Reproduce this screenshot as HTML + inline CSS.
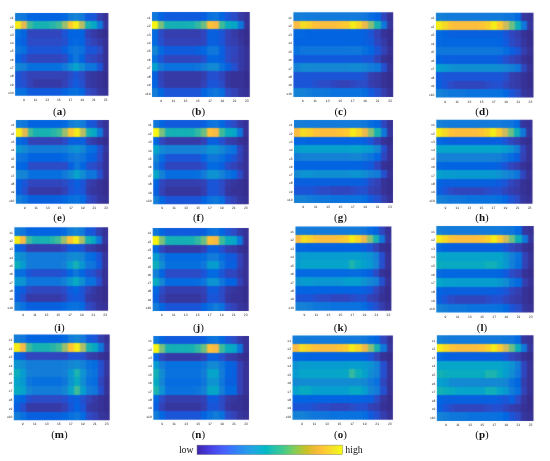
<!DOCTYPE html>
<html lang="en"><head><meta charset="utf-8"><title>Heatmaps</title>
<style>html,body{margin:0;padding:0;background:#fff}body{width:550px;height:461px;overflow:hidden}svg{display:block}.t{font-family:"Liberation Sans",sans-serif;font-size:3.3px;fill:#1a1a1a;text-rendering:geometricPrecision}.l{font-family:"Liberation Serif",serif;font-size:11px;fill:#111}.c{font-family:"Liberation Serif",serif;font-size:9.8px;fill:#111}</style></head><body>
<svg width="550" height="461" viewBox="0 0 550 461">
<defs><filter id="b" x="-5%" y="-5%" width="110%" height="110%" color-interpolation-filters="sRGB"><feConvolveMatrix order="5 3" kernelMatrix="0.0041 0.0326 0.0651 0.0326 0.0041 0.0213 0.1702 0.3400 0.1702 0.0213 0.0041 0.0326 0.0651 0.0326 0.0041" divisor="1" edgeMode="duplicate" preserveAlpha="true"/></filter><filter id="b2" x="-2%" y="-2%" width="104%" height="104%" color-interpolation-filters="sRGB"><feConvolveMatrix order="3 3" kernelMatrix="0.0028 0.0470 0.0028 0.0470 0.8008 0.0470 0.0028 0.0470 0.0028" divisor="1" edgeMode="none"/></filter>
<linearGradient id="cb" x1="0" x2="1" y1="0" y2="0"><stop offset="0.0000" stop-color="#3e26a8"/><stop offset="0.0476" stop-color="#4332cb"/><stop offset="0.0952" stop-color="#4741e5"/><stop offset="0.1429" stop-color="#4852f4"/><stop offset="0.1905" stop-color="#4563fd"/><stop offset="0.2381" stop-color="#3875fe"/><stop offset="0.2857" stop-color="#2e87f7"/><stop offset="0.3333" stop-color="#2797eb"/><stop offset="0.3810" stop-color="#20a5e3"/><stop offset="0.4286" stop-color="#12b1d6"/><stop offset="0.4762" stop-color="#02bac3"/><stop offset="0.5238" stop-color="#24c1ae"/><stop offset="0.5714" stop-color="#37c897"/><stop offset="0.6190" stop-color="#57cc7a"/><stop offset="0.6667" stop-color="#81cc59"/><stop offset="0.7143" stop-color="#abc739"/><stop offset="0.7619" stop-color="#d1bf27"/><stop offset="0.8095" stop-color="#f0ba36"/><stop offset="0.8571" stop-color="#fec338"/><stop offset="0.9048" stop-color="#fad62d"/><stop offset="0.9524" stop-color="#f5e924"/><stop offset="1.0000" stop-color="#f9fb15"/></linearGradient></defs>
<rect width="550" height="461" fill="#fff"/>
<clipPath id="cp_a"><rect x="15.10" y="12.90" width="93.30" height="82.90"/></clipPath><g filter="url(#b2)"><g clip-path="url(#cp_a)"><g filter="url(#b)" shape-rendering="crispEdges"><rect x="12.10" y="9.90" width="8.88" height="11.34" fill="#127cd8"/><rect x="20.93" y="9.90" width="5.88" height="11.34" fill="#0f77db"/><rect x="26.76" y="9.90" width="35.04" height="11.34" fill="#0364e1"/><rect x="61.75" y="9.90" width="5.88" height="11.34" fill="#036ae1"/><rect x="67.58" y="9.90" width="5.88" height="11.34" fill="#127cd8"/><rect x="73.41" y="9.90" width="5.88" height="11.34" fill="#1484d4"/><rect x="79.24" y="9.90" width="5.88" height="11.34" fill="#117ada"/><rect x="85.08" y="9.90" width="5.88" height="11.34" fill="#105bdd"/><rect x="90.91" y="9.90" width="5.88" height="11.34" fill="#1b55d7"/><rect x="96.74" y="9.90" width="5.88" height="11.34" fill="#353eaf"/><rect x="102.57" y="9.90" width="8.88" height="11.34" fill="#363297"/><rect x="12.10" y="21.19" width="8.88" height="8.34" fill="#f5ec18"/><rect x="20.93" y="21.19" width="5.88" height="8.34" fill="#e2b951"/><rect x="26.76" y="21.19" width="5.88" height="8.34" fill="#3fba99"/><rect x="32.59" y="21.19" width="17.54" height="8.34" fill="#18b1b2"/><rect x="50.09" y="21.19" width="5.88" height="8.34" fill="#27b5a8"/><rect x="55.92" y="21.19" width="5.88" height="8.34" fill="#3fba99"/><rect x="61.75" y="21.19" width="5.88" height="8.34" fill="#9bbf6f"/><rect x="67.58" y="21.19" width="5.88" height="8.34" fill="#fec733"/><rect x="73.41" y="21.19" width="5.88" height="8.34" fill="#f5ec18"/><rect x="79.24" y="21.19" width="5.88" height="8.34" fill="#b8bd63"/><rect x="85.08" y="21.19" width="5.88" height="8.34" fill="#18b1b2"/><rect x="90.91" y="21.19" width="5.88" height="8.34" fill="#06a8c4"/><rect x="96.74" y="21.19" width="5.88" height="8.34" fill="#0f77db"/><rect x="102.57" y="21.19" width="8.88" height="8.34" fill="#36369f"/><rect x="12.10" y="29.48" width="8.88" height="8.34" fill="#0770df"/><rect x="20.93" y="29.48" width="5.88" height="8.34" fill="#0364e1"/><rect x="26.76" y="29.48" width="35.04" height="8.34" fill="#2f46bf"/><rect x="61.75" y="29.48" width="5.88" height="8.34" fill="#1b55d7"/><rect x="67.58" y="29.48" width="17.54" height="8.34" fill="#0364e1"/><rect x="85.08" y="29.48" width="5.88" height="8.34" fill="#3342b7"/><rect x="90.91" y="29.48" width="5.88" height="8.34" fill="#363aa7"/><rect x="96.74" y="29.48" width="5.88" height="8.34" fill="#363297"/><rect x="102.57" y="29.48" width="8.88" height="8.34" fill="#362e8f"/><rect x="12.10" y="37.77" width="8.88" height="8.34" fill="#036ae1"/><rect x="20.93" y="37.77" width="5.88" height="8.34" fill="#0860df"/><rect x="26.76" y="37.77" width="35.04" height="8.34" fill="#2b4bc7"/><rect x="61.75" y="37.77" width="5.88" height="8.34" fill="#2450cf"/><rect x="67.58" y="37.77" width="5.88" height="8.34" fill="#0364e1"/><rect x="73.41" y="37.77" width="5.88" height="8.34" fill="#036ae1"/><rect x="79.24" y="37.77" width="5.88" height="8.34" fill="#0364e1"/><rect x="85.08" y="37.77" width="5.88" height="8.34" fill="#2b4bc7"/><rect x="90.91" y="37.77" width="5.88" height="8.34" fill="#3342b7"/><rect x="96.74" y="37.77" width="5.88" height="8.34" fill="#363aa7"/><rect x="102.57" y="37.77" width="8.88" height="8.34" fill="#363297"/><rect x="12.10" y="46.06" width="8.88" height="8.34" fill="#0d75dc"/><rect x="20.93" y="46.06" width="5.88" height="8.34" fill="#0770df"/><rect x="26.76" y="46.06" width="35.04" height="8.34" fill="#1b55d7"/><rect x="61.75" y="46.06" width="5.88" height="8.34" fill="#0860df"/><rect x="67.58" y="46.06" width="5.88" height="8.34" fill="#0a72de"/><rect x="73.41" y="46.06" width="5.88" height="8.34" fill="#0f77db"/><rect x="79.24" y="46.06" width="5.88" height="8.34" fill="#0a72de"/><rect x="85.08" y="46.06" width="11.71" height="8.34" fill="#1b55d7"/><rect x="96.74" y="46.06" width="5.88" height="8.34" fill="#2b4bc7"/><rect x="102.57" y="46.06" width="8.88" height="8.34" fill="#363297"/><rect x="12.10" y="54.35" width="8.88" height="8.34" fill="#0364e1"/><rect x="20.93" y="54.35" width="5.88" height="8.34" fill="#1b55d7"/><rect x="26.76" y="54.35" width="35.04" height="8.34" fill="#2f46bf"/><rect x="61.75" y="54.35" width="5.88" height="8.34" fill="#2b4bc7"/><rect x="67.58" y="54.35" width="5.88" height="8.34" fill="#0364e1"/><rect x="73.41" y="54.35" width="5.88" height="8.34" fill="#0f77db"/><rect x="79.24" y="54.35" width="5.88" height="8.34" fill="#0364e1"/><rect x="85.08" y="54.35" width="5.88" height="8.34" fill="#2b4bc7"/><rect x="90.91" y="54.35" width="5.88" height="8.34" fill="#2f46bf"/><rect x="96.74" y="54.35" width="5.88" height="8.34" fill="#353eaf"/><rect x="102.57" y="54.35" width="8.88" height="8.34" fill="#363297"/><rect x="12.10" y="62.64" width="8.88" height="8.34" fill="#1484d4"/><rect x="20.93" y="62.64" width="5.88" height="8.34" fill="#137fd7"/><rect x="26.76" y="62.64" width="35.04" height="8.34" fill="#0770df"/><rect x="61.75" y="62.64" width="5.88" height="8.34" fill="#117ada"/><rect x="67.58" y="62.64" width="5.88" height="8.34" fill="#0f8fd2"/><rect x="73.41" y="62.64" width="5.88" height="8.34" fill="#06a3cb"/><rect x="79.24" y="62.64" width="5.88" height="8.34" fill="#118cd2"/><rect x="85.08" y="62.64" width="11.71" height="8.34" fill="#0d75dc"/><rect x="96.74" y="62.64" width="5.88" height="8.34" fill="#1b55d7"/><rect x="102.57" y="62.64" width="8.88" height="8.34" fill="#363297"/><rect x="12.10" y="70.93" width="8.88" height="8.34" fill="#1b55d7"/><rect x="20.93" y="70.93" width="5.88" height="8.34" fill="#2b4bc7"/><rect x="26.76" y="70.93" width="40.87" height="8.34" fill="#3342b7"/><rect x="67.58" y="70.93" width="5.88" height="8.34" fill="#2b4bc7"/><rect x="73.41" y="70.93" width="5.88" height="8.34" fill="#1b55d7"/><rect x="79.24" y="70.93" width="5.88" height="8.34" fill="#2b4bc7"/><rect x="85.08" y="70.93" width="5.88" height="8.34" fill="#363aa7"/><rect x="90.91" y="70.93" width="5.88" height="8.34" fill="#36369f"/><rect x="96.74" y="70.93" width="5.88" height="8.34" fill="#363297"/><rect x="102.57" y="70.93" width="8.88" height="8.34" fill="#362e8f"/><rect x="12.10" y="79.22" width="8.88" height="8.34" fill="#1b55d7"/><rect x="20.93" y="79.22" width="5.88" height="8.34" fill="#2450cf"/><rect x="26.76" y="79.22" width="5.88" height="8.34" fill="#3342b7"/><rect x="32.59" y="79.22" width="29.21" height="8.34" fill="#363aa7"/><rect x="61.75" y="79.22" width="5.88" height="8.34" fill="#3342b7"/><rect x="67.58" y="79.22" width="5.88" height="8.34" fill="#2450cf"/><rect x="73.41" y="79.22" width="5.88" height="8.34" fill="#105bdd"/><rect x="79.24" y="79.22" width="5.88" height="8.34" fill="#2450cf"/><rect x="85.08" y="79.22" width="5.88" height="8.34" fill="#363aa7"/><rect x="90.91" y="79.22" width="5.88" height="8.34" fill="#36369f"/><rect x="96.74" y="79.22" width="5.88" height="8.34" fill="#363297"/><rect x="102.57" y="79.22" width="8.88" height="8.34" fill="#362e8f"/><rect x="12.10" y="87.51" width="8.88" height="11.34" fill="#0a72de"/><rect x="20.93" y="87.51" width="5.88" height="11.34" fill="#0770df"/><rect x="26.76" y="87.51" width="35.04" height="11.34" fill="#105bdd"/><rect x="61.75" y="87.51" width="5.88" height="11.34" fill="#0364e1"/><rect x="67.58" y="87.51" width="5.88" height="11.34" fill="#056de0"/><rect x="73.41" y="87.51" width="5.88" height="11.34" fill="#0770df"/><rect x="79.24" y="87.51" width="5.88" height="11.34" fill="#0267e1"/><rect x="85.08" y="87.51" width="5.88" height="11.34" fill="#2b4bc7"/><rect x="90.91" y="87.51" width="5.88" height="11.34" fill="#3342b7"/><rect x="96.74" y="87.51" width="5.88" height="11.34" fill="#36369f"/><rect x="102.57" y="87.51" width="8.88" height="11.34" fill="#363297"/></g></g></g>
<text class="t" x="13.60" y="19.25" text-anchor="end">x1</text><text class="t" x="13.60" y="27.54" text-anchor="end">x2</text><text class="t" x="13.60" y="35.83" text-anchor="end">x3</text><text class="t" x="13.60" y="44.12" text-anchor="end">x4</text><text class="t" x="13.60" y="52.40" text-anchor="end">x5</text><text class="t" x="13.60" y="60.70" text-anchor="end">x6</text><text class="t" x="13.60" y="68.98" text-anchor="end">x7</text><text class="t" x="13.60" y="77.28" text-anchor="end">x8</text><text class="t" x="13.60" y="85.56" text-anchor="end">x9</text><text class="t" x="13.60" y="93.86" text-anchor="end">x10</text><text class="t" x="23.85" y="100.90" text-anchor="middle">9</text><text class="t" x="35.51" y="100.90" text-anchor="middle">11</text><text class="t" x="47.17" y="100.90" text-anchor="middle">13</text><text class="t" x="58.83" y="100.90" text-anchor="middle">15</text><text class="t" x="70.50" y="100.90" text-anchor="middle">17</text><text class="t" x="82.16" y="100.90" text-anchor="middle">19</text><text class="t" x="93.82" y="100.90" text-anchor="middle">21</text><text class="t" x="105.48" y="100.90" text-anchor="middle">23</text>
<text class="l" x="59.40" y="114.90" text-anchor="middle">(<tspan font-weight="bold">a</tspan>)</text>
<clipPath id="cp_b"><rect x="152.00" y="12.10" width="97.80" height="84.80"/></clipPath><g filter="url(#b2)"><g clip-path="url(#cp_b)"><g filter="url(#b)" shape-rendering="crispEdges"><rect x="149.00" y="9.10" width="9.16" height="11.53" fill="#0f77db"/><rect x="158.11" y="9.10" width="6.16" height="11.53" fill="#0364e1"/><rect x="164.22" y="9.10" width="36.73" height="11.53" fill="#105bdd"/><rect x="200.90" y="9.10" width="6.16" height="11.53" fill="#0860df"/><rect x="207.01" y="9.10" width="6.16" height="11.53" fill="#0a72de"/><rect x="213.12" y="9.10" width="6.16" height="11.53" fill="#0d75dc"/><rect x="219.24" y="9.10" width="6.16" height="11.53" fill="#0267e1"/><rect x="225.35" y="9.10" width="6.16" height="11.53" fill="#1b55d7"/><rect x="231.46" y="9.10" width="6.16" height="11.53" fill="#2b4bc7"/><rect x="237.58" y="9.10" width="6.16" height="11.53" fill="#363aa7"/><rect x="243.69" y="9.10" width="9.16" height="11.53" fill="#363297"/><rect x="149.00" y="20.58" width="9.16" height="8.53" fill="#f7f611"/><rect x="158.11" y="20.58" width="6.16" height="8.53" fill="#7abf7c"/><rect x="164.22" y="20.58" width="6.16" height="8.53" fill="#18b1b2"/><rect x="170.34" y="20.58" width="18.39" height="8.53" fill="#14b0b5"/><rect x="188.68" y="20.58" width="6.16" height="8.53" fill="#18b1b2"/><rect x="194.79" y="20.58" width="6.16" height="8.53" fill="#33b8a1"/><rect x="200.90" y="20.58" width="6.16" height="8.53" fill="#6bbf83"/><rect x="207.01" y="20.58" width="6.16" height="8.53" fill="#fec13a"/><rect x="213.12" y="20.58" width="6.16" height="8.53" fill="#f6ba46"/><rect x="219.24" y="20.58" width="6.16" height="8.53" fill="#3fba99"/><rect x="225.35" y="20.58" width="6.16" height="8.53" fill="#09acbe"/><rect x="231.46" y="20.58" width="6.16" height="8.53" fill="#06a6c6"/><rect x="237.58" y="20.58" width="6.16" height="8.53" fill="#0d75dc"/><rect x="243.69" y="20.58" width="9.16" height="8.53" fill="#363297"/><rect x="149.00" y="29.06" width="9.16" height="8.53" fill="#036ae1"/><rect x="158.11" y="29.06" width="6.16" height="8.53" fill="#2b4bc7"/><rect x="164.22" y="29.06" width="36.73" height="8.53" fill="#353eaf"/><rect x="200.90" y="29.06" width="6.16" height="8.53" fill="#2f46bf"/><rect x="207.01" y="29.06" width="12.28" height="8.53" fill="#0860df"/><rect x="219.24" y="29.06" width="6.16" height="8.53" fill="#1b55d7"/><rect x="225.35" y="29.06" width="6.16" height="8.53" fill="#3342b7"/><rect x="231.46" y="29.06" width="6.16" height="8.53" fill="#363aa7"/><rect x="237.58" y="29.06" width="6.16" height="8.53" fill="#363297"/><rect x="243.69" y="29.06" width="9.16" height="8.53" fill="#362e8f"/><rect x="149.00" y="37.54" width="9.16" height="8.53" fill="#036ae1"/><rect x="158.11" y="37.54" width="6.16" height="8.53" fill="#2450cf"/><rect x="164.22" y="37.54" width="36.73" height="8.53" fill="#3342b7"/><rect x="200.90" y="37.54" width="6.16" height="8.53" fill="#2f46bf"/><rect x="207.01" y="37.54" width="12.28" height="8.53" fill="#0860df"/><rect x="219.24" y="37.54" width="6.16" height="8.53" fill="#1b55d7"/><rect x="225.35" y="37.54" width="6.16" height="8.53" fill="#3342b7"/><rect x="231.46" y="37.54" width="6.16" height="8.53" fill="#353eaf"/><rect x="237.58" y="37.54" width="6.16" height="8.53" fill="#36369f"/><rect x="243.69" y="37.54" width="9.16" height="8.53" fill="#362e8f"/><rect x="149.00" y="46.02" width="9.16" height="8.53" fill="#1484d4"/><rect x="158.11" y="46.02" width="6.16" height="8.53" fill="#036ae1"/><rect x="164.22" y="46.02" width="30.61" height="8.53" fill="#105bdd"/><rect x="194.79" y="46.02" width="6.16" height="8.53" fill="#0860df"/><rect x="200.90" y="46.02" width="6.16" height="8.53" fill="#0267e1"/><rect x="207.01" y="46.02" width="12.28" height="8.53" fill="#0f77db"/><rect x="219.24" y="46.02" width="6.16" height="8.53" fill="#0860df"/><rect x="225.35" y="46.02" width="6.16" height="8.53" fill="#2b4bc7"/><rect x="231.46" y="46.02" width="6.16" height="8.53" fill="#2f46bf"/><rect x="237.58" y="46.02" width="6.16" height="8.53" fill="#363aa7"/><rect x="243.69" y="46.02" width="9.16" height="8.53" fill="#363297"/><rect x="149.00" y="54.50" width="9.16" height="8.53" fill="#0770df"/><rect x="158.11" y="54.50" width="6.16" height="8.53" fill="#1b55d7"/><rect x="164.22" y="54.50" width="36.73" height="8.53" fill="#2f46bf"/><rect x="200.90" y="54.50" width="6.16" height="8.53" fill="#2450cf"/><rect x="207.01" y="54.50" width="12.28" height="8.53" fill="#0267e1"/><rect x="219.24" y="54.50" width="6.16" height="8.53" fill="#0860df"/><rect x="225.35" y="54.50" width="6.16" height="8.53" fill="#2b4bc7"/><rect x="231.46" y="54.50" width="6.16" height="8.53" fill="#3342b7"/><rect x="237.58" y="54.50" width="6.16" height="8.53" fill="#363aa7"/><rect x="243.69" y="54.50" width="9.16" height="8.53" fill="#363297"/><rect x="149.00" y="62.98" width="9.16" height="8.53" fill="#06a0cd"/><rect x="158.11" y="62.98" width="6.16" height="8.53" fill="#127cd8"/><rect x="164.22" y="62.98" width="30.61" height="8.53" fill="#0a72de"/><rect x="194.79" y="62.98" width="6.16" height="8.53" fill="#0d75dc"/><rect x="200.90" y="62.98" width="6.16" height="8.53" fill="#127cd8"/><rect x="207.01" y="62.98" width="12.28" height="8.53" fill="#1389d3"/><rect x="219.24" y="62.98" width="6.16" height="8.53" fill="#0a72de"/><rect x="225.35" y="62.98" width="6.16" height="8.53" fill="#0860df"/><rect x="231.46" y="62.98" width="6.16" height="8.53" fill="#2450cf"/><rect x="237.58" y="62.98" width="6.16" height="8.53" fill="#363aa7"/><rect x="243.69" y="62.98" width="9.16" height="8.53" fill="#363297"/><rect x="149.00" y="71.46" width="9.16" height="8.53" fill="#0860df"/><rect x="158.11" y="71.46" width="6.16" height="8.53" fill="#3342b7"/><rect x="164.22" y="71.46" width="36.73" height="8.53" fill="#363aa7"/><rect x="200.90" y="71.46" width="6.16" height="8.53" fill="#353eaf"/><rect x="207.01" y="71.46" width="12.28" height="8.53" fill="#2450cf"/><rect x="219.24" y="71.46" width="6.16" height="8.53" fill="#2f46bf"/><rect x="225.35" y="71.46" width="6.16" height="8.53" fill="#36369f"/><rect x="231.46" y="71.46" width="12.27" height="8.53" fill="#363297"/><rect x="243.69" y="71.46" width="9.16" height="8.53" fill="#362e8f"/><rect x="149.00" y="79.94" width="9.16" height="8.53" fill="#0364e1"/><rect x="158.11" y="79.94" width="6.16" height="8.53" fill="#2f46bf"/><rect x="164.22" y="79.94" width="36.73" height="8.53" fill="#363aa7"/><rect x="200.90" y="79.94" width="6.16" height="8.53" fill="#3342b7"/><rect x="207.01" y="79.94" width="12.28" height="8.53" fill="#1b55d7"/><rect x="219.24" y="79.94" width="6.16" height="8.53" fill="#2b4bc7"/><rect x="225.35" y="79.94" width="6.16" height="8.53" fill="#36369f"/><rect x="231.46" y="79.94" width="12.27" height="8.53" fill="#363297"/><rect x="243.69" y="79.94" width="9.16" height="8.53" fill="#362e8f"/><rect x="149.00" y="88.42" width="9.16" height="11.53" fill="#127cd8"/><rect x="158.11" y="88.42" width="6.16" height="11.53" fill="#0267e1"/><rect x="164.22" y="88.42" width="36.73" height="11.53" fill="#1b55d7"/><rect x="200.90" y="88.42" width="6.16" height="11.53" fill="#0364e1"/><rect x="207.01" y="88.42" width="6.16" height="11.53" fill="#0a72de"/><rect x="213.12" y="88.42" width="6.16" height="11.53" fill="#0f77db"/><rect x="219.24" y="88.42" width="6.16" height="11.53" fill="#056de0"/><rect x="225.35" y="88.42" width="6.16" height="11.53" fill="#2b4bc7"/><rect x="231.46" y="88.42" width="6.16" height="11.53" fill="#3342b7"/><rect x="237.58" y="88.42" width="6.16" height="11.53" fill="#36369f"/><rect x="243.69" y="88.42" width="9.16" height="11.53" fill="#363297"/></g></g></g>
<text class="t" x="150.50" y="18.54" text-anchor="end">x1</text><text class="t" x="150.50" y="27.02" text-anchor="end">x2</text><text class="t" x="150.50" y="35.50" text-anchor="end">x3</text><text class="t" x="150.50" y="43.98" text-anchor="end">x4</text><text class="t" x="150.50" y="52.46" text-anchor="end">x5</text><text class="t" x="150.50" y="60.94" text-anchor="end">x6</text><text class="t" x="150.50" y="69.42" text-anchor="end">x7</text><text class="t" x="150.50" y="77.90" text-anchor="end">x8</text><text class="t" x="150.50" y="86.38" text-anchor="end">x9</text><text class="t" x="150.50" y="94.86" text-anchor="end">x10</text><text class="t" x="161.17" y="102.00" text-anchor="middle">9</text><text class="t" x="173.39" y="102.00" text-anchor="middle">11</text><text class="t" x="185.62" y="102.00" text-anchor="middle">13</text><text class="t" x="197.84" y="102.00" text-anchor="middle">15</text><text class="t" x="210.07" y="102.00" text-anchor="middle">17</text><text class="t" x="222.29" y="102.00" text-anchor="middle">19</text><text class="t" x="234.52" y="102.00" text-anchor="middle">21</text><text class="t" x="246.74" y="102.00" text-anchor="middle">23</text>
<text class="l" x="198.40" y="114.90" text-anchor="middle">(<tspan font-weight="bold">b</tspan>)</text>
<clipPath id="cp_c"><rect x="293.40" y="12.30" width="99.80" height="84.65"/></clipPath><g filter="url(#b2)"><g clip-path="url(#cp_c)"><g filter="url(#b)" shape-rendering="crispEdges"><rect x="290.40" y="9.30" width="15.53" height="11.52" fill="#127cd8"/><rect x="305.88" y="9.30" width="56.19" height="11.52" fill="#117ada"/><rect x="362.01" y="9.30" width="6.29" height="11.52" fill="#0f77db"/><rect x="368.25" y="9.30" width="6.29" height="11.52" fill="#056de0"/><rect x="374.49" y="9.30" width="6.29" height="11.52" fill="#0364e1"/><rect x="380.73" y="9.30" width="6.29" height="11.52" fill="#2f46bf"/><rect x="386.96" y="9.30" width="9.29" height="11.52" fill="#363297"/><rect x="290.40" y="20.77" width="9.29" height="8.52" fill="#fabc42"/><rect x="299.64" y="20.77" width="6.29" height="8.52" fill="#f6dc23"/><rect x="305.88" y="20.77" width="6.29" height="8.52" fill="#fad12b"/><rect x="312.11" y="20.77" width="6.29" height="8.52" fill="#fec13a"/><rect x="318.35" y="20.77" width="18.76" height="8.52" fill="#fdbe3e"/><rect x="337.06" y="20.77" width="6.29" height="8.52" fill="#ffc436"/><rect x="343.30" y="20.77" width="6.29" height="8.52" fill="#fdcb30"/><rect x="349.54" y="20.77" width="6.29" height="8.52" fill="#f5ec18"/><rect x="355.77" y="20.77" width="6.29" height="8.52" fill="#f9d528"/><rect x="362.01" y="20.77" width="6.29" height="8.52" fill="#ecb94c"/><rect x="368.25" y="20.77" width="6.29" height="8.52" fill="#88bf77"/><rect x="374.49" y="20.77" width="6.29" height="8.52" fill="#18b1b2"/><rect x="380.73" y="20.77" width="6.29" height="8.52" fill="#0f77db"/><rect x="386.96" y="20.77" width="9.29" height="8.52" fill="#36369f"/><rect x="290.40" y="29.23" width="15.53" height="8.52" fill="#0267e1"/><rect x="305.88" y="29.23" width="56.19" height="8.52" fill="#0364e1"/><rect x="362.01" y="29.23" width="6.29" height="8.52" fill="#0860df"/><rect x="368.25" y="29.23" width="6.29" height="8.52" fill="#1b55d7"/><rect x="374.49" y="29.23" width="6.29" height="8.52" fill="#3342b7"/><rect x="380.73" y="29.23" width="6.29" height="8.52" fill="#363297"/><rect x="386.96" y="29.23" width="9.29" height="8.52" fill="#362e8f"/><rect x="290.40" y="37.70" width="71.66" height="8.51" fill="#0364e1"/><rect x="362.01" y="37.70" width="6.29" height="8.51" fill="#0860df"/><rect x="368.25" y="37.70" width="6.29" height="8.51" fill="#105bdd"/><rect x="374.49" y="37.70" width="6.29" height="8.51" fill="#2f46bf"/><rect x="380.73" y="37.70" width="6.29" height="8.51" fill="#363aa7"/><rect x="386.96" y="37.70" width="9.29" height="8.51" fill="#362e8f"/><rect x="290.40" y="46.16" width="9.29" height="8.52" fill="#0770df"/><rect x="299.64" y="46.16" width="49.95" height="8.52" fill="#0d75dc"/><rect x="349.54" y="46.16" width="12.53" height="8.52" fill="#0f77db"/><rect x="362.01" y="46.16" width="6.29" height="8.52" fill="#0770df"/><rect x="368.25" y="46.16" width="6.29" height="8.52" fill="#0267e1"/><rect x="374.49" y="46.16" width="6.29" height="8.52" fill="#1b55d7"/><rect x="380.73" y="46.16" width="6.29" height="8.52" fill="#3342b7"/><rect x="386.96" y="46.16" width="9.29" height="8.52" fill="#363297"/><rect x="290.40" y="54.62" width="71.66" height="8.52" fill="#105bdd"/><rect x="362.01" y="54.62" width="12.52" height="8.52" fill="#1b55d7"/><rect x="374.49" y="54.62" width="6.29" height="8.52" fill="#3342b7"/><rect x="380.73" y="54.62" width="6.29" height="8.52" fill="#363297"/><rect x="386.96" y="54.62" width="9.29" height="8.52" fill="#362e8f"/><rect x="290.40" y="63.09" width="9.29" height="8.52" fill="#1481d6"/><rect x="299.64" y="63.09" width="12.52" height="8.52" fill="#1389d3"/><rect x="312.11" y="63.09" width="37.48" height="8.52" fill="#1486d3"/><rect x="349.54" y="63.09" width="12.53" height="8.52" fill="#1389d3"/><rect x="362.01" y="63.09" width="6.29" height="8.52" fill="#1484d4"/><rect x="368.25" y="63.09" width="6.29" height="8.52" fill="#127cd8"/><rect x="374.49" y="63.09" width="6.29" height="8.52" fill="#0f77db"/><rect x="380.73" y="63.09" width="6.29" height="8.52" fill="#2450cf"/><rect x="386.96" y="63.09" width="9.29" height="8.52" fill="#363297"/><rect x="290.40" y="71.55" width="71.66" height="8.52" fill="#1b55d7"/><rect x="362.01" y="71.55" width="6.29" height="8.52" fill="#2450cf"/><rect x="368.25" y="71.55" width="6.29" height="8.52" fill="#353eaf"/><rect x="374.49" y="71.55" width="6.29" height="8.52" fill="#363aa7"/><rect x="380.73" y="71.55" width="6.29" height="8.52" fill="#363297"/><rect x="386.96" y="71.55" width="9.29" height="8.52" fill="#362e8f"/><rect x="290.40" y="80.02" width="21.76" height="8.52" fill="#1b55d7"/><rect x="312.11" y="80.02" width="6.29" height="8.52" fill="#2450cf"/><rect x="318.35" y="80.02" width="12.53" height="8.52" fill="#2b4bc7"/><rect x="330.82" y="80.02" width="6.29" height="8.52" fill="#2f46bf"/><rect x="337.06" y="80.02" width="12.52" height="8.52" fill="#3342b7"/><rect x="349.54" y="80.02" width="6.29" height="8.52" fill="#2f46bf"/><rect x="355.77" y="80.02" width="12.53" height="8.52" fill="#2b4bc7"/><rect x="368.25" y="80.02" width="6.29" height="8.52" fill="#353eaf"/><rect x="374.49" y="80.02" width="6.29" height="8.52" fill="#363aa7"/><rect x="380.73" y="80.02" width="6.29" height="8.52" fill="#363297"/><rect x="386.96" y="80.02" width="9.29" height="8.52" fill="#362e8f"/><rect x="290.40" y="88.48" width="15.53" height="11.52" fill="#1481d6"/><rect x="305.88" y="88.48" width="6.29" height="11.52" fill="#127cd8"/><rect x="312.11" y="88.48" width="12.53" height="11.52" fill="#0f77db"/><rect x="324.59" y="88.48" width="6.29" height="11.52" fill="#0d75dc"/><rect x="330.82" y="88.48" width="31.24" height="11.52" fill="#0a72de"/><rect x="362.01" y="88.48" width="6.29" height="11.52" fill="#056de0"/><rect x="368.25" y="88.48" width="6.29" height="11.52" fill="#105bdd"/><rect x="374.49" y="88.48" width="6.29" height="11.52" fill="#2450cf"/><rect x="380.73" y="88.48" width="6.29" height="11.52" fill="#353eaf"/><rect x="386.96" y="88.48" width="9.29" height="11.52" fill="#363297"/></g></g></g>
<text class="t" x="291.90" y="18.73" text-anchor="end">x1</text><text class="t" x="291.90" y="27.20" text-anchor="end">x2</text><text class="t" x="291.90" y="35.66" text-anchor="end">x3</text><text class="t" x="291.90" y="44.13" text-anchor="end">x4</text><text class="t" x="291.90" y="52.59" text-anchor="end">x5</text><text class="t" x="291.90" y="61.06" text-anchor="end">x6</text><text class="t" x="291.90" y="69.52" text-anchor="end">x7</text><text class="t" x="291.90" y="77.99" text-anchor="end">x8</text><text class="t" x="291.90" y="86.45" text-anchor="end">x9</text><text class="t" x="291.90" y="94.92" text-anchor="end">x10</text><text class="t" x="302.76" y="102.05" text-anchor="middle">9</text><text class="t" x="315.23" y="102.05" text-anchor="middle">11</text><text class="t" x="327.71" y="102.05" text-anchor="middle">13</text><text class="t" x="340.18" y="102.05" text-anchor="middle">15</text><text class="t" x="352.66" y="102.05" text-anchor="middle">17</text><text class="t" x="365.13" y="102.05" text-anchor="middle">19</text><text class="t" x="377.61" y="102.05" text-anchor="middle">21</text><text class="t" x="390.08" y="102.05" text-anchor="middle">23</text>
<text class="l" x="340.50" y="114.90" text-anchor="middle">(<tspan font-weight="bold">c</tspan>)</text>
<clipPath id="cp_d"><rect x="435.90" y="12.70" width="97.60" height="84.90"/></clipPath><g filter="url(#b2)"><g clip-path="url(#cp_d)"><g filter="url(#b)" shape-rendering="crispEdges"><rect x="432.90" y="9.70" width="9.15" height="11.54" fill="#1481d6"/><rect x="442.00" y="9.70" width="6.15" height="11.54" fill="#127cd8"/><rect x="448.10" y="9.70" width="54.95" height="11.54" fill="#117ada"/><rect x="503.00" y="9.70" width="6.15" height="11.54" fill="#0f77db"/><rect x="509.10" y="9.70" width="6.15" height="11.54" fill="#0d75dc"/><rect x="515.20" y="9.70" width="6.15" height="11.54" fill="#036ae1"/><rect x="521.30" y="9.70" width="6.15" height="11.54" fill="#36369f"/><rect x="527.40" y="9.70" width="9.15" height="11.54" fill="#363297"/><rect x="432.90" y="21.19" width="9.15" height="8.54" fill="#f5ec18"/><rect x="442.00" y="21.19" width="6.15" height="8.54" fill="#f7d826"/><rect x="448.10" y="21.19" width="6.15" height="8.54" fill="#ffc436"/><rect x="454.20" y="21.19" width="24.45" height="8.54" fill="#fdbe3e"/><rect x="478.60" y="21.19" width="6.15" height="8.54" fill="#ffc436"/><rect x="484.70" y="21.19" width="6.15" height="8.54" fill="#fad12b"/><rect x="490.80" y="21.19" width="6.15" height="8.54" fill="#f5ec18"/><rect x="496.90" y="21.19" width="6.15" height="8.54" fill="#fdcb30"/><rect x="503.00" y="21.19" width="6.15" height="8.54" fill="#cebb5b"/><rect x="509.10" y="21.19" width="6.15" height="8.54" fill="#6bbf83"/><rect x="515.20" y="21.19" width="6.15" height="8.54" fill="#0cadbb"/><rect x="521.30" y="21.19" width="6.15" height="8.54" fill="#0f77db"/><rect x="527.40" y="21.19" width="9.15" height="8.54" fill="#36369f"/><rect x="432.90" y="29.68" width="9.15" height="8.54" fill="#036ae1"/><rect x="442.00" y="29.68" width="6.15" height="8.54" fill="#0364e1"/><rect x="448.10" y="29.68" width="54.95" height="8.54" fill="#0860df"/><rect x="503.00" y="29.68" width="6.15" height="8.54" fill="#1b55d7"/><rect x="509.10" y="29.68" width="6.15" height="8.54" fill="#2f46bf"/><rect x="515.20" y="29.68" width="6.15" height="8.54" fill="#353eaf"/><rect x="521.30" y="29.68" width="6.15" height="8.54" fill="#363297"/><rect x="527.40" y="29.68" width="9.15" height="8.54" fill="#362e8f"/><rect x="432.90" y="38.17" width="9.15" height="8.54" fill="#036ae1"/><rect x="442.00" y="38.17" width="54.95" height="8.54" fill="#0267e1"/><rect x="496.90" y="38.17" width="6.15" height="8.54" fill="#0364e1"/><rect x="503.00" y="38.17" width="6.15" height="8.54" fill="#105bdd"/><rect x="509.10" y="38.17" width="6.15" height="8.54" fill="#2b4bc7"/><rect x="515.20" y="38.17" width="6.15" height="8.54" fill="#3342b7"/><rect x="521.30" y="38.17" width="6.15" height="8.54" fill="#36369f"/><rect x="527.40" y="38.17" width="9.15" height="8.54" fill="#362e8f"/><rect x="432.90" y="46.66" width="64.05" height="8.54" fill="#0f77db"/><rect x="496.90" y="46.66" width="6.15" height="8.54" fill="#0d75dc"/><rect x="503.00" y="46.66" width="6.15" height="8.54" fill="#056de0"/><rect x="509.10" y="46.66" width="6.15" height="8.54" fill="#0860df"/><rect x="515.20" y="46.66" width="6.15" height="8.54" fill="#1b55d7"/><rect x="521.30" y="46.66" width="6.15" height="8.54" fill="#353eaf"/><rect x="527.40" y="46.66" width="9.15" height="8.54" fill="#363297"/><rect x="432.90" y="55.15" width="9.15" height="8.54" fill="#0364e1"/><rect x="442.00" y="55.15" width="54.95" height="8.54" fill="#0860df"/><rect x="496.90" y="55.15" width="6.15" height="8.54" fill="#105bdd"/><rect x="503.00" y="55.15" width="6.15" height="8.54" fill="#2450cf"/><rect x="509.10" y="55.15" width="6.15" height="8.54" fill="#2f46bf"/><rect x="515.20" y="55.15" width="6.15" height="8.54" fill="#353eaf"/><rect x="521.30" y="55.15" width="6.15" height="8.54" fill="#363297"/><rect x="527.40" y="55.15" width="9.15" height="8.54" fill="#362e8f"/><rect x="432.90" y="63.64" width="9.15" height="8.54" fill="#069ece"/><rect x="442.00" y="63.64" width="6.15" height="8.54" fill="#0899d1"/><rect x="448.10" y="63.64" width="6.15" height="8.54" fill="#0d93d2"/><rect x="454.20" y="63.64" width="42.75" height="8.54" fill="#0f8fd2"/><rect x="496.90" y="63.64" width="6.15" height="8.54" fill="#118cd2"/><rect x="503.00" y="63.64" width="6.15" height="8.54" fill="#1486d3"/><rect x="509.10" y="63.64" width="6.15" height="8.54" fill="#137fd7"/><rect x="515.20" y="63.64" width="6.15" height="8.54" fill="#0d75dc"/><rect x="521.30" y="63.64" width="6.15" height="8.54" fill="#2f46bf"/><rect x="527.40" y="63.64" width="9.15" height="8.54" fill="#363297"/><rect x="432.90" y="72.13" width="9.15" height="8.54" fill="#105bdd"/><rect x="442.00" y="72.13" width="61.05" height="8.54" fill="#1b55d7"/><rect x="503.00" y="72.13" width="6.15" height="8.54" fill="#2450cf"/><rect x="509.10" y="72.13" width="6.15" height="8.54" fill="#353eaf"/><rect x="515.20" y="72.13" width="6.15" height="8.54" fill="#363aa7"/><rect x="521.30" y="72.13" width="6.15" height="8.54" fill="#363297"/><rect x="527.40" y="72.13" width="9.15" height="8.54" fill="#362e8f"/><rect x="432.90" y="80.62" width="9.15" height="8.54" fill="#0860df"/><rect x="442.00" y="80.62" width="6.15" height="8.54" fill="#1b55d7"/><rect x="448.10" y="80.62" width="6.15" height="8.54" fill="#2b4bc7"/><rect x="454.20" y="80.62" width="30.55" height="8.54" fill="#2f46bf"/><rect x="484.70" y="80.62" width="6.15" height="8.54" fill="#2b4bc7"/><rect x="490.80" y="80.62" width="12.25" height="8.54" fill="#2450cf"/><rect x="503.00" y="80.62" width="6.15" height="8.54" fill="#2f46bf"/><rect x="509.10" y="80.62" width="6.15" height="8.54" fill="#353eaf"/><rect x="515.20" y="80.62" width="6.15" height="8.54" fill="#363aa7"/><rect x="521.30" y="80.62" width="6.15" height="8.54" fill="#363297"/><rect x="527.40" y="80.62" width="9.15" height="8.54" fill="#362e8f"/><rect x="432.90" y="89.11" width="9.15" height="11.54" fill="#1481d6"/><rect x="442.00" y="89.11" width="6.15" height="11.54" fill="#127cd8"/><rect x="448.10" y="89.11" width="12.25" height="11.54" fill="#0f77db"/><rect x="460.30" y="89.11" width="6.15" height="11.54" fill="#0d75dc"/><rect x="466.40" y="89.11" width="30.55" height="11.54" fill="#0a72de"/><rect x="496.90" y="89.11" width="6.15" height="11.54" fill="#0770df"/><rect x="503.00" y="89.11" width="6.15" height="11.54" fill="#0267e1"/><rect x="509.10" y="89.11" width="6.15" height="11.54" fill="#1b55d7"/><rect x="515.20" y="89.11" width="6.15" height="11.54" fill="#2b4bc7"/><rect x="521.30" y="89.11" width="6.15" height="11.54" fill="#36369f"/><rect x="527.40" y="89.11" width="9.15" height="11.54" fill="#363297"/></g></g></g>
<text class="t" x="434.40" y="19.14" text-anchor="end">x1</text><text class="t" x="434.40" y="27.63" text-anchor="end">x2</text><text class="t" x="434.40" y="36.12" text-anchor="end">x3</text><text class="t" x="434.40" y="44.61" text-anchor="end">x4</text><text class="t" x="434.40" y="53.10" text-anchor="end">x5</text><text class="t" x="434.40" y="61.59" text-anchor="end">x6</text><text class="t" x="434.40" y="70.08" text-anchor="end">x7</text><text class="t" x="434.40" y="78.57" text-anchor="end">x8</text><text class="t" x="434.40" y="87.06" text-anchor="end">x9</text><text class="t" x="434.40" y="95.55" text-anchor="end">x10</text><text class="t" x="445.05" y="102.70" text-anchor="middle">9</text><text class="t" x="457.25" y="102.70" text-anchor="middle">11</text><text class="t" x="469.45" y="102.70" text-anchor="middle">13</text><text class="t" x="481.65" y="102.70" text-anchor="middle">15</text><text class="t" x="493.85" y="102.70" text-anchor="middle">17</text><text class="t" x="506.05" y="102.70" text-anchor="middle">19</text><text class="t" x="518.25" y="102.70" text-anchor="middle">21</text><text class="t" x="530.45" y="102.70" text-anchor="middle">23</text>
<text class="l" x="482.00" y="114.90" text-anchor="middle">(<tspan font-weight="bold">d</tspan>)</text>
<clipPath id="cp_e"><rect x="15.90" y="120.00" width="93.00" height="83.70"/></clipPath><g filter="url(#b2)"><g clip-path="url(#cp_e)"><g filter="url(#b)" shape-rendering="crispEdges"><rect x="12.90" y="117.00" width="8.86" height="11.42" fill="#127cd8"/><rect x="21.71" y="117.00" width="5.86" height="11.42" fill="#0f77db"/><rect x="27.52" y="117.00" width="34.92" height="11.42" fill="#0364e1"/><rect x="62.40" y="117.00" width="5.86" height="11.42" fill="#036ae1"/><rect x="68.21" y="117.00" width="5.86" height="11.42" fill="#127cd8"/><rect x="74.03" y="117.00" width="5.86" height="11.42" fill="#1484d4"/><rect x="79.84" y="117.00" width="5.86" height="11.42" fill="#117ada"/><rect x="85.65" y="117.00" width="5.86" height="11.42" fill="#105bdd"/><rect x="91.46" y="117.00" width="5.86" height="11.42" fill="#1b55d7"/><rect x="97.28" y="117.00" width="5.86" height="11.42" fill="#353eaf"/><rect x="103.09" y="117.00" width="8.86" height="11.42" fill="#363297"/><rect x="12.90" y="128.37" width="8.86" height="8.42" fill="#f5ec18"/><rect x="21.71" y="128.37" width="5.86" height="8.42" fill="#e2b951"/><rect x="27.52" y="128.37" width="5.86" height="8.42" fill="#3fba99"/><rect x="33.34" y="128.37" width="17.49" height="8.42" fill="#18b1b2"/><rect x="50.77" y="128.37" width="5.86" height="8.42" fill="#27b5a8"/><rect x="56.59" y="128.37" width="5.86" height="8.42" fill="#3fba99"/><rect x="62.40" y="128.37" width="5.86" height="8.42" fill="#9bbf6f"/><rect x="68.21" y="128.37" width="5.86" height="8.42" fill="#fec733"/><rect x="74.03" y="128.37" width="5.86" height="8.42" fill="#f5ec18"/><rect x="79.84" y="128.37" width="5.86" height="8.42" fill="#b8bd63"/><rect x="85.65" y="128.37" width="5.86" height="8.42" fill="#18b1b2"/><rect x="91.46" y="128.37" width="5.86" height="8.42" fill="#06a8c4"/><rect x="97.28" y="128.37" width="5.86" height="8.42" fill="#0f77db"/><rect x="103.09" y="128.37" width="8.86" height="8.42" fill="#36369f"/><rect x="12.90" y="136.74" width="8.86" height="8.42" fill="#036ae1"/><rect x="21.71" y="136.74" width="5.86" height="8.42" fill="#0860df"/><rect x="27.52" y="136.74" width="34.92" height="8.42" fill="#3342b7"/><rect x="62.40" y="136.74" width="5.86" height="8.42" fill="#2b4bc7"/><rect x="68.21" y="136.74" width="17.49" height="8.42" fill="#0860df"/><rect x="85.65" y="136.74" width="5.86" height="8.42" fill="#3342b7"/><rect x="91.46" y="136.74" width="5.86" height="8.42" fill="#363aa7"/><rect x="97.28" y="136.74" width="5.86" height="8.42" fill="#363297"/><rect x="103.09" y="136.74" width="8.86" height="8.42" fill="#362e8f"/><rect x="12.90" y="145.11" width="8.86" height="8.42" fill="#0d93d2"/><rect x="21.71" y="145.11" width="5.86" height="8.42" fill="#1389d3"/><rect x="27.52" y="145.11" width="34.92" height="8.42" fill="#127cd8"/><rect x="62.40" y="145.11" width="5.86" height="8.42" fill="#137fd7"/><rect x="68.21" y="145.11" width="5.86" height="8.42" fill="#118cd2"/><rect x="74.03" y="145.11" width="5.86" height="8.42" fill="#0d93d2"/><rect x="79.84" y="145.11" width="5.86" height="8.42" fill="#1486d3"/><rect x="85.65" y="145.11" width="5.86" height="8.42" fill="#0770df"/><rect x="91.46" y="145.11" width="5.86" height="8.42" fill="#056de0"/><rect x="97.28" y="145.11" width="5.86" height="8.42" fill="#2450cf"/><rect x="103.09" y="145.11" width="8.86" height="8.42" fill="#36369f"/><rect x="12.90" y="153.48" width="8.86" height="8.42" fill="#0d75dc"/><rect x="21.71" y="153.48" width="5.86" height="8.42" fill="#0a72de"/><rect x="27.52" y="153.48" width="34.92" height="8.42" fill="#0364e1"/><rect x="62.40" y="153.48" width="5.86" height="8.42" fill="#036ae1"/><rect x="68.21" y="153.48" width="5.86" height="8.42" fill="#0d75dc"/><rect x="74.03" y="153.48" width="5.86" height="8.42" fill="#117ada"/><rect x="79.84" y="153.48" width="5.86" height="8.42" fill="#0d75dc"/><rect x="85.65" y="153.48" width="5.86" height="8.42" fill="#0364e1"/><rect x="91.46" y="153.48" width="5.86" height="8.42" fill="#0860df"/><rect x="97.28" y="153.48" width="5.86" height="8.42" fill="#2b4bc7"/><rect x="103.09" y="153.48" width="8.86" height="8.42" fill="#363297"/><rect x="12.90" y="161.85" width="8.86" height="8.42" fill="#0267e1"/><rect x="21.71" y="161.85" width="5.86" height="8.42" fill="#0364e1"/><rect x="27.52" y="161.85" width="40.74" height="8.42" fill="#2b4bc7"/><rect x="68.21" y="161.85" width="5.86" height="8.42" fill="#0860df"/><rect x="74.03" y="161.85" width="5.86" height="8.42" fill="#0f77db"/><rect x="79.84" y="161.85" width="5.86" height="8.42" fill="#0267e1"/><rect x="85.65" y="161.85" width="5.86" height="8.42" fill="#2450cf"/><rect x="91.46" y="161.85" width="5.86" height="8.42" fill="#2b4bc7"/><rect x="97.28" y="161.85" width="5.86" height="8.42" fill="#3342b7"/><rect x="103.09" y="161.85" width="8.86" height="8.42" fill="#363297"/><rect x="12.90" y="170.22" width="8.86" height="8.42" fill="#1486d3"/><rect x="21.71" y="170.22" width="5.86" height="8.42" fill="#1484d4"/><rect x="27.52" y="170.22" width="34.92" height="8.42" fill="#0770df"/><rect x="62.40" y="170.22" width="5.86" height="8.42" fill="#117ada"/><rect x="68.21" y="170.22" width="5.86" height="8.42" fill="#118cd2"/><rect x="74.03" y="170.22" width="5.86" height="8.42" fill="#06a3cb"/><rect x="79.84" y="170.22" width="5.86" height="8.42" fill="#118cd2"/><rect x="85.65" y="170.22" width="11.68" height="8.42" fill="#0d75dc"/><rect x="97.28" y="170.22" width="5.86" height="8.42" fill="#2450cf"/><rect x="103.09" y="170.22" width="8.86" height="8.42" fill="#363297"/><rect x="12.90" y="178.59" width="8.86" height="8.42" fill="#0860df"/><rect x="21.71" y="178.59" width="5.86" height="8.42" fill="#1b55d7"/><rect x="27.52" y="178.59" width="34.92" height="8.42" fill="#2f46bf"/><rect x="62.40" y="178.59" width="5.86" height="8.42" fill="#2b4bc7"/><rect x="68.21" y="178.59" width="5.86" height="8.42" fill="#1b55d7"/><rect x="74.03" y="178.59" width="5.86" height="8.42" fill="#0860df"/><rect x="79.84" y="178.59" width="5.86" height="8.42" fill="#1b55d7"/><rect x="85.65" y="178.59" width="5.86" height="8.42" fill="#353eaf"/><rect x="91.46" y="178.59" width="5.86" height="8.42" fill="#363aa7"/><rect x="97.28" y="178.59" width="5.86" height="8.42" fill="#363297"/><rect x="103.09" y="178.59" width="8.86" height="8.42" fill="#362e8f"/><rect x="12.90" y="186.96" width="8.86" height="8.42" fill="#0860df"/><rect x="21.71" y="186.96" width="5.86" height="8.42" fill="#2450cf"/><rect x="27.52" y="186.96" width="34.92" height="8.42" fill="#363aa7"/><rect x="62.40" y="186.96" width="5.86" height="8.42" fill="#3342b7"/><rect x="68.21" y="186.96" width="5.86" height="8.42" fill="#1b55d7"/><rect x="74.03" y="186.96" width="5.86" height="8.42" fill="#105bdd"/><rect x="79.84" y="186.96" width="5.86" height="8.42" fill="#1b55d7"/><rect x="85.65" y="186.96" width="5.86" height="8.42" fill="#363aa7"/><rect x="91.46" y="186.96" width="5.86" height="8.42" fill="#36369f"/><rect x="97.28" y="186.96" width="5.86" height="8.42" fill="#363297"/><rect x="103.09" y="186.96" width="8.86" height="8.42" fill="#362e8f"/><rect x="12.90" y="195.33" width="8.86" height="11.42" fill="#127cd8"/><rect x="21.71" y="195.33" width="5.86" height="11.42" fill="#0a72de"/><rect x="27.52" y="195.33" width="34.92" height="11.42" fill="#0860df"/><rect x="62.40" y="195.33" width="5.86" height="11.42" fill="#0267e1"/><rect x="68.21" y="195.33" width="5.86" height="11.42" fill="#0770df"/><rect x="74.03" y="195.33" width="5.86" height="11.42" fill="#0a72de"/><rect x="79.84" y="195.33" width="5.86" height="11.42" fill="#036ae1"/><rect x="85.65" y="195.33" width="5.86" height="11.42" fill="#2b4bc7"/><rect x="91.46" y="195.33" width="5.86" height="11.42" fill="#3342b7"/><rect x="97.28" y="195.33" width="5.86" height="11.42" fill="#36369f"/><rect x="103.09" y="195.33" width="8.86" height="11.42" fill="#363297"/></g></g></g>
<text class="t" x="14.40" y="126.39" text-anchor="end">x1</text><text class="t" x="14.40" y="134.75" text-anchor="end">x2</text><text class="t" x="14.40" y="143.12" text-anchor="end">x3</text><text class="t" x="14.40" y="151.49" text-anchor="end">x4</text><text class="t" x="14.40" y="159.86" text-anchor="end">x5</text><text class="t" x="14.40" y="168.23" text-anchor="end">x6</text><text class="t" x="14.40" y="176.60" text-anchor="end">x7</text><text class="t" x="14.40" y="184.97" text-anchor="end">x8</text><text class="t" x="14.40" y="193.34" text-anchor="end">x9</text><text class="t" x="14.40" y="201.71" text-anchor="end">x10</text><text class="t" x="24.62" y="208.80" text-anchor="middle">9</text><text class="t" x="36.24" y="208.80" text-anchor="middle">11</text><text class="t" x="47.87" y="208.80" text-anchor="middle">13</text><text class="t" x="59.49" y="208.80" text-anchor="middle">15</text><text class="t" x="71.12" y="208.80" text-anchor="middle">17</text><text class="t" x="82.74" y="208.80" text-anchor="middle">19</text><text class="t" x="94.37" y="208.80" text-anchor="middle">21</text><text class="t" x="105.99" y="208.80" text-anchor="middle">23</text>
<text class="l" x="59.40" y="221.40" text-anchor="middle">(<tspan font-weight="bold">e</tspan>)</text>
<clipPath id="cp_f"><rect x="153.20" y="119.90" width="95.55" height="84.30"/></clipPath><g filter="url(#b2)"><g clip-path="url(#cp_f)"><g filter="url(#b)" shape-rendering="crispEdges"><rect x="150.20" y="116.90" width="9.02" height="11.48" fill="#0f77db"/><rect x="159.17" y="116.90" width="6.02" height="11.48" fill="#0364e1"/><rect x="165.14" y="116.90" width="35.88" height="11.48" fill="#105bdd"/><rect x="200.97" y="116.90" width="6.02" height="11.48" fill="#0860df"/><rect x="206.95" y="116.90" width="6.02" height="11.48" fill="#0a72de"/><rect x="212.92" y="116.90" width="6.02" height="11.48" fill="#0d75dc"/><rect x="218.89" y="116.90" width="6.02" height="11.48" fill="#0267e1"/><rect x="224.86" y="116.90" width="6.02" height="11.48" fill="#1b55d7"/><rect x="230.83" y="116.90" width="6.02" height="11.48" fill="#2b4bc7"/><rect x="236.81" y="116.90" width="6.02" height="11.48" fill="#363aa7"/><rect x="242.78" y="116.90" width="9.02" height="11.48" fill="#363297"/><rect x="150.20" y="128.33" width="9.02" height="8.48" fill="#f7f611"/><rect x="159.17" y="128.33" width="6.02" height="8.48" fill="#7abf7c"/><rect x="165.14" y="128.33" width="6.02" height="8.48" fill="#18b1b2"/><rect x="171.12" y="128.33" width="17.97" height="8.48" fill="#14b0b5"/><rect x="189.03" y="128.33" width="6.02" height="8.48" fill="#18b1b2"/><rect x="195.00" y="128.33" width="6.02" height="8.48" fill="#33b8a1"/><rect x="200.97" y="128.33" width="6.02" height="8.48" fill="#6bbf83"/><rect x="206.95" y="128.33" width="6.02" height="8.48" fill="#fec13a"/><rect x="212.92" y="128.33" width="6.02" height="8.48" fill="#f6ba46"/><rect x="218.89" y="128.33" width="6.02" height="8.48" fill="#3fba99"/><rect x="224.86" y="128.33" width="6.02" height="8.48" fill="#09acbe"/><rect x="230.83" y="128.33" width="6.02" height="8.48" fill="#06a6c6"/><rect x="236.81" y="128.33" width="6.02" height="8.48" fill="#0d75dc"/><rect x="242.78" y="128.33" width="9.02" height="8.48" fill="#363297"/><rect x="150.20" y="136.76" width="9.02" height="8.48" fill="#0267e1"/><rect x="159.17" y="136.76" width="6.02" height="8.48" fill="#2f46bf"/><rect x="165.14" y="136.76" width="35.88" height="8.48" fill="#363aa7"/><rect x="200.97" y="136.76" width="6.02" height="8.48" fill="#3342b7"/><rect x="206.95" y="136.76" width="11.99" height="8.48" fill="#0860df"/><rect x="218.89" y="136.76" width="6.02" height="8.48" fill="#2450cf"/><rect x="224.86" y="136.76" width="6.02" height="8.48" fill="#353eaf"/><rect x="230.83" y="136.76" width="6.02" height="8.48" fill="#363aa7"/><rect x="236.81" y="136.76" width="6.02" height="8.48" fill="#363297"/><rect x="242.78" y="136.76" width="9.02" height="8.48" fill="#362e8f"/><rect x="150.20" y="145.19" width="9.02" height="8.48" fill="#06a3cb"/><rect x="159.17" y="145.19" width="6.02" height="8.48" fill="#1389d3"/><rect x="165.14" y="145.19" width="35.88" height="8.48" fill="#1481d6"/><rect x="200.97" y="145.19" width="6.02" height="8.48" fill="#1484d4"/><rect x="206.95" y="145.19" width="11.99" height="8.48" fill="#0d93d2"/><rect x="218.89" y="145.19" width="6.02" height="8.48" fill="#1486d3"/><rect x="224.86" y="145.19" width="6.02" height="8.48" fill="#0f77db"/><rect x="230.83" y="145.19" width="6.02" height="8.48" fill="#0a72de"/><rect x="236.81" y="145.19" width="6.02" height="8.48" fill="#2f46bf"/><rect x="242.78" y="145.19" width="9.02" height="8.48" fill="#363297"/><rect x="150.20" y="153.62" width="9.02" height="8.48" fill="#1484d4"/><rect x="159.17" y="153.62" width="6.02" height="8.48" fill="#056de0"/><rect x="165.14" y="153.62" width="35.88" height="8.48" fill="#1b55d7"/><rect x="200.97" y="153.62" width="6.02" height="8.48" fill="#0267e1"/><rect x="206.95" y="153.62" width="11.99" height="8.48" fill="#0f77db"/><rect x="218.89" y="153.62" width="6.02" height="8.48" fill="#0770df"/><rect x="224.86" y="153.62" width="6.02" height="8.48" fill="#0860df"/><rect x="230.83" y="153.62" width="6.02" height="8.48" fill="#1b55d7"/><rect x="236.81" y="153.62" width="6.02" height="8.48" fill="#3342b7"/><rect x="242.78" y="153.62" width="9.02" height="8.48" fill="#363297"/><rect x="150.20" y="162.05" width="9.02" height="8.48" fill="#0f77db"/><rect x="159.17" y="162.05" width="6.02" height="8.48" fill="#105bdd"/><rect x="165.14" y="162.05" width="35.88" height="8.48" fill="#2f46bf"/><rect x="200.97" y="162.05" width="6.02" height="8.48" fill="#2450cf"/><rect x="206.95" y="162.05" width="11.99" height="8.48" fill="#036ae1"/><rect x="218.89" y="162.05" width="6.02" height="8.48" fill="#0860df"/><rect x="224.86" y="162.05" width="6.02" height="8.48" fill="#2b4bc7"/><rect x="230.83" y="162.05" width="6.02" height="8.48" fill="#3342b7"/><rect x="236.81" y="162.05" width="6.02" height="8.48" fill="#363aa7"/><rect x="242.78" y="162.05" width="9.02" height="8.48" fill="#363297"/><rect x="150.20" y="170.48" width="9.02" height="8.48" fill="#06a6c6"/><rect x="159.17" y="170.48" width="6.02" height="8.48" fill="#1481d6"/><rect x="165.14" y="170.48" width="29.91" height="8.48" fill="#056de0"/><rect x="195.00" y="170.48" width="6.02" height="8.48" fill="#0770df"/><rect x="200.97" y="170.48" width="6.02" height="8.48" fill="#127cd8"/><rect x="206.95" y="170.48" width="11.99" height="8.48" fill="#0d93d2"/><rect x="218.89" y="170.48" width="6.02" height="8.48" fill="#1481d6"/><rect x="224.86" y="170.48" width="6.02" height="8.48" fill="#0a72de"/><rect x="230.83" y="170.48" width="6.02" height="8.48" fill="#036ae1"/><rect x="236.81" y="170.48" width="6.02" height="8.48" fill="#2b4bc7"/><rect x="242.78" y="170.48" width="9.02" height="8.48" fill="#363297"/><rect x="150.20" y="178.91" width="9.02" height="8.48" fill="#0364e1"/><rect x="159.17" y="178.91" width="6.02" height="8.48" fill="#2f46bf"/><rect x="165.14" y="178.91" width="35.88" height="8.48" fill="#353eaf"/><rect x="200.97" y="178.91" width="6.02" height="8.48" fill="#3342b7"/><rect x="206.95" y="178.91" width="11.99" height="8.48" fill="#1b55d7"/><rect x="218.89" y="178.91" width="6.02" height="8.48" fill="#2b4bc7"/><rect x="224.86" y="178.91" width="6.02" height="8.48" fill="#363aa7"/><rect x="230.83" y="178.91" width="6.02" height="8.48" fill="#36369f"/><rect x="236.81" y="178.91" width="6.02" height="8.48" fill="#363297"/><rect x="242.78" y="178.91" width="9.02" height="8.48" fill="#362e8f"/><rect x="150.20" y="187.34" width="9.02" height="8.48" fill="#0860df"/><rect x="159.17" y="187.34" width="6.02" height="8.48" fill="#3342b7"/><rect x="165.14" y="187.34" width="35.88" height="8.48" fill="#36369f"/><rect x="200.97" y="187.34" width="6.02" height="8.48" fill="#353eaf"/><rect x="206.95" y="187.34" width="11.99" height="8.48" fill="#1b55d7"/><rect x="218.89" y="187.34" width="6.02" height="8.48" fill="#2b4bc7"/><rect x="224.86" y="187.34" width="6.02" height="8.48" fill="#36369f"/><rect x="230.83" y="187.34" width="11.99" height="8.48" fill="#363297"/><rect x="242.78" y="187.34" width="9.02" height="8.48" fill="#362e8f"/><rect x="150.20" y="195.77" width="9.02" height="11.48" fill="#127cd8"/><rect x="159.17" y="195.77" width="6.02" height="11.48" fill="#0267e1"/><rect x="165.14" y="195.77" width="35.88" height="11.48" fill="#1b55d7"/><rect x="200.97" y="195.77" width="6.02" height="11.48" fill="#0364e1"/><rect x="206.95" y="195.77" width="6.02" height="11.48" fill="#0a72de"/><rect x="212.92" y="195.77" width="6.02" height="11.48" fill="#0f77db"/><rect x="218.89" y="195.77" width="6.02" height="11.48" fill="#056de0"/><rect x="224.86" y="195.77" width="6.02" height="11.48" fill="#2b4bc7"/><rect x="230.83" y="195.77" width="6.02" height="11.48" fill="#3342b7"/><rect x="236.81" y="195.77" width="6.02" height="11.48" fill="#36369f"/><rect x="242.78" y="195.77" width="9.02" height="11.48" fill="#363297"/></g></g></g>
<text class="t" x="151.70" y="126.32" text-anchor="end">x1</text><text class="t" x="151.70" y="134.75" text-anchor="end">x2</text><text class="t" x="151.70" y="143.17" text-anchor="end">x3</text><text class="t" x="151.70" y="151.60" text-anchor="end">x4</text><text class="t" x="151.70" y="160.03" text-anchor="end">x5</text><text class="t" x="151.70" y="168.46" text-anchor="end">x6</text><text class="t" x="151.70" y="176.89" text-anchor="end">x7</text><text class="t" x="151.70" y="185.32" text-anchor="end">x8</text><text class="t" x="151.70" y="193.75" text-anchor="end">x9</text><text class="t" x="151.70" y="202.18" text-anchor="end">x10</text><text class="t" x="162.16" y="209.30" text-anchor="middle">9</text><text class="t" x="174.10" y="209.30" text-anchor="middle">11</text><text class="t" x="186.05" y="209.30" text-anchor="middle">13</text><text class="t" x="197.99" y="209.30" text-anchor="middle">15</text><text class="t" x="209.93" y="209.30" text-anchor="middle">17</text><text class="t" x="221.88" y="209.30" text-anchor="middle">19</text><text class="t" x="233.82" y="209.30" text-anchor="middle">21</text><text class="t" x="245.76" y="209.30" text-anchor="middle">23</text>
<text class="l" x="198.40" y="221.40" text-anchor="middle">(<tspan font-weight="bold">f</tspan>)</text>
<clipPath id="cp_g"><rect x="294.00" y="119.90" width="99.00" height="83.10"/></clipPath><g filter="url(#b2)"><g clip-path="url(#cp_g)"><g filter="url(#b)" shape-rendering="crispEdges"><rect x="291.00" y="116.90" width="15.43" height="11.36" fill="#127cd8"/><rect x="306.38" y="116.90" width="55.74" height="11.36" fill="#117ada"/><rect x="362.06" y="116.90" width="6.24" height="11.36" fill="#0f77db"/><rect x="368.25" y="116.90" width="6.24" height="11.36" fill="#056de0"/><rect x="374.44" y="116.90" width="6.24" height="11.36" fill="#0364e1"/><rect x="380.62" y="116.90" width="6.24" height="11.36" fill="#2f46bf"/><rect x="386.81" y="116.90" width="9.24" height="11.36" fill="#363297"/><rect x="291.00" y="128.21" width="9.24" height="8.36" fill="#fabc42"/><rect x="300.19" y="128.21" width="6.24" height="8.36" fill="#f6dc23"/><rect x="306.38" y="128.21" width="6.24" height="8.36" fill="#fad12b"/><rect x="312.56" y="128.21" width="6.24" height="8.36" fill="#fec13a"/><rect x="318.75" y="128.21" width="18.61" height="8.36" fill="#fdbe3e"/><rect x="337.31" y="128.21" width="6.24" height="8.36" fill="#ffc436"/><rect x="343.50" y="128.21" width="6.24" height="8.36" fill="#fdcb30"/><rect x="349.69" y="128.21" width="6.24" height="8.36" fill="#f5ec18"/><rect x="355.88" y="128.21" width="6.24" height="8.36" fill="#f9d528"/><rect x="362.06" y="128.21" width="6.24" height="8.36" fill="#ecb94c"/><rect x="368.25" y="128.21" width="6.24" height="8.36" fill="#88bf77"/><rect x="374.44" y="128.21" width="6.24" height="8.36" fill="#18b1b2"/><rect x="380.62" y="128.21" width="6.24" height="8.36" fill="#0f77db"/><rect x="386.81" y="128.21" width="9.24" height="8.36" fill="#36369f"/><rect x="291.00" y="136.52" width="15.43" height="8.36" fill="#0267e1"/><rect x="306.38" y="136.52" width="55.74" height="8.36" fill="#0364e1"/><rect x="362.06" y="136.52" width="6.24" height="8.36" fill="#0860df"/><rect x="368.25" y="136.52" width="6.24" height="8.36" fill="#1b55d7"/><rect x="374.44" y="136.52" width="6.24" height="8.36" fill="#3342b7"/><rect x="380.62" y="136.52" width="6.24" height="8.36" fill="#363297"/><rect x="386.81" y="136.52" width="9.24" height="8.36" fill="#362e8f"/><rect x="291.00" y="144.83" width="9.24" height="8.36" fill="#079cd0"/><rect x="300.19" y="144.83" width="49.55" height="8.36" fill="#06a0cd"/><rect x="349.69" y="144.83" width="12.43" height="8.36" fill="#06a3cb"/><rect x="362.06" y="144.83" width="6.24" height="8.36" fill="#069ece"/><rect x="368.25" y="144.83" width="6.24" height="8.36" fill="#0899d1"/><rect x="374.44" y="144.83" width="6.24" height="8.36" fill="#1486d3"/><rect x="380.62" y="144.83" width="6.24" height="8.36" fill="#2450cf"/><rect x="386.81" y="144.83" width="9.24" height="8.36" fill="#363297"/><rect x="291.00" y="153.14" width="9.24" height="8.36" fill="#127cd8"/><rect x="300.19" y="153.14" width="49.55" height="8.36" fill="#1481d6"/><rect x="349.69" y="153.14" width="12.43" height="8.36" fill="#1484d4"/><rect x="362.06" y="153.14" width="6.24" height="8.36" fill="#127cd8"/><rect x="368.25" y="153.14" width="6.24" height="8.36" fill="#0d75dc"/><rect x="374.44" y="153.14" width="6.24" height="8.36" fill="#0267e1"/><rect x="380.62" y="153.14" width="6.24" height="8.36" fill="#2f46bf"/><rect x="386.81" y="153.14" width="9.24" height="8.36" fill="#363297"/><rect x="291.00" y="161.45" width="71.11" height="8.36" fill="#0364e1"/><rect x="362.06" y="161.45" width="6.24" height="8.36" fill="#0860df"/><rect x="368.25" y="161.45" width="6.24" height="8.36" fill="#105bdd"/><rect x="374.44" y="161.45" width="6.24" height="8.36" fill="#2f46bf"/><rect x="380.62" y="161.45" width="6.24" height="8.36" fill="#363297"/><rect x="386.81" y="161.45" width="9.24" height="8.36" fill="#362e8f"/><rect x="291.00" y="169.76" width="9.24" height="8.36" fill="#1389d3"/><rect x="300.19" y="169.76" width="12.43" height="8.36" fill="#0d93d2"/><rect x="312.56" y="169.76" width="37.17" height="8.36" fill="#0f8fd2"/><rect x="349.69" y="169.76" width="12.43" height="8.36" fill="#0d93d2"/><rect x="362.06" y="169.76" width="6.24" height="8.36" fill="#118cd2"/><rect x="368.25" y="169.76" width="6.24" height="8.36" fill="#1481d6"/><rect x="374.44" y="169.76" width="6.24" height="8.36" fill="#127cd8"/><rect x="380.62" y="169.76" width="6.24" height="8.36" fill="#2450cf"/><rect x="386.81" y="169.76" width="9.24" height="8.36" fill="#363297"/><rect x="291.00" y="178.07" width="71.11" height="8.36" fill="#0860df"/><rect x="362.06" y="178.07" width="6.24" height="8.36" fill="#105bdd"/><rect x="368.25" y="178.07" width="6.24" height="8.36" fill="#2b4bc7"/><rect x="374.44" y="178.07" width="6.24" height="8.36" fill="#3342b7"/><rect x="380.62" y="178.07" width="6.24" height="8.36" fill="#363297"/><rect x="386.81" y="178.07" width="9.24" height="8.36" fill="#362e8f"/><rect x="291.00" y="186.38" width="21.61" height="8.36" fill="#1b55d7"/><rect x="312.56" y="186.38" width="6.24" height="8.36" fill="#2450cf"/><rect x="318.75" y="186.38" width="12.43" height="8.36" fill="#2b4bc7"/><rect x="331.12" y="186.38" width="18.61" height="8.36" fill="#2f46bf"/><rect x="349.69" y="186.38" width="6.24" height="8.36" fill="#2b4bc7"/><rect x="355.88" y="186.38" width="12.43" height="8.36" fill="#2450cf"/><rect x="368.25" y="186.38" width="6.24" height="8.36" fill="#3342b7"/><rect x="374.44" y="186.38" width="6.24" height="8.36" fill="#353eaf"/><rect x="380.62" y="186.38" width="6.24" height="8.36" fill="#363297"/><rect x="386.81" y="186.38" width="9.24" height="8.36" fill="#362e8f"/><rect x="291.00" y="194.69" width="15.43" height="11.36" fill="#1481d6"/><rect x="306.38" y="194.69" width="6.24" height="11.36" fill="#127cd8"/><rect x="312.56" y="194.69" width="12.43" height="11.36" fill="#0f77db"/><rect x="324.94" y="194.69" width="6.24" height="11.36" fill="#0d75dc"/><rect x="331.12" y="194.69" width="30.99" height="11.36" fill="#0a72de"/><rect x="362.06" y="194.69" width="6.24" height="11.36" fill="#056de0"/><rect x="368.25" y="194.69" width="6.24" height="11.36" fill="#105bdd"/><rect x="374.44" y="194.69" width="6.24" height="11.36" fill="#2450cf"/><rect x="380.62" y="194.69" width="6.24" height="11.36" fill="#353eaf"/><rect x="386.81" y="194.69" width="9.24" height="11.36" fill="#363297"/></g></g></g>
<text class="t" x="292.50" y="126.26" text-anchor="end">x1</text><text class="t" x="292.50" y="134.56" text-anchor="end">x2</text><text class="t" x="292.50" y="142.88" text-anchor="end">x3</text><text class="t" x="292.50" y="151.19" text-anchor="end">x4</text><text class="t" x="292.50" y="159.50" text-anchor="end">x5</text><text class="t" x="292.50" y="167.80" text-anchor="end">x6</text><text class="t" x="292.50" y="176.11" text-anchor="end">x7</text><text class="t" x="292.50" y="184.42" text-anchor="end">x8</text><text class="t" x="292.50" y="192.73" text-anchor="end">x9</text><text class="t" x="292.50" y="201.04" text-anchor="end">x10</text><text class="t" x="303.28" y="208.10" text-anchor="middle">9</text><text class="t" x="315.66" y="208.10" text-anchor="middle">11</text><text class="t" x="328.03" y="208.10" text-anchor="middle">13</text><text class="t" x="340.41" y="208.10" text-anchor="middle">15</text><text class="t" x="352.78" y="208.10" text-anchor="middle">17</text><text class="t" x="365.16" y="208.10" text-anchor="middle">19</text><text class="t" x="377.53" y="208.10" text-anchor="middle">21</text><text class="t" x="389.91" y="208.10" text-anchor="middle">23</text>
<text class="l" x="340.50" y="221.40" text-anchor="middle">(<tspan font-weight="bold">g</tspan>)</text>
<clipPath id="cp_h"><rect x="436.30" y="119.70" width="96.20" height="84.05"/></clipPath><g filter="url(#b2)"><g clip-path="url(#cp_h)"><g filter="url(#b)" shape-rendering="crispEdges"><rect x="433.30" y="116.70" width="9.06" height="11.45" fill="#1481d6"/><rect x="442.31" y="116.70" width="6.06" height="11.45" fill="#127cd8"/><rect x="448.32" y="116.70" width="54.16" height="11.45" fill="#117ada"/><rect x="502.44" y="116.70" width="6.06" height="11.45" fill="#0f77db"/><rect x="508.45" y="116.70" width="6.06" height="11.45" fill="#0d75dc"/><rect x="514.46" y="116.70" width="6.06" height="11.45" fill="#036ae1"/><rect x="520.48" y="116.70" width="6.06" height="11.45" fill="#36369f"/><rect x="526.49" y="116.70" width="9.06" height="11.45" fill="#363297"/><rect x="433.30" y="128.10" width="9.06" height="8.46" fill="#f5ec18"/><rect x="442.31" y="128.10" width="6.06" height="8.46" fill="#f7d826"/><rect x="448.32" y="128.10" width="6.06" height="8.46" fill="#ffc436"/><rect x="454.34" y="128.10" width="24.10" height="8.46" fill="#fdbe3e"/><rect x="478.39" y="128.10" width="6.06" height="8.46" fill="#ffc436"/><rect x="484.40" y="128.10" width="6.06" height="8.46" fill="#fad12b"/><rect x="490.41" y="128.10" width="6.06" height="8.46" fill="#f5ec18"/><rect x="496.43" y="128.10" width="6.06" height="8.46" fill="#fdcb30"/><rect x="502.44" y="128.10" width="6.06" height="8.46" fill="#cebb5b"/><rect x="508.45" y="128.10" width="6.06" height="8.46" fill="#6bbf83"/><rect x="514.46" y="128.10" width="6.06" height="8.46" fill="#0cadbb"/><rect x="520.48" y="128.10" width="6.06" height="8.46" fill="#0f77db"/><rect x="526.49" y="128.10" width="9.06" height="8.46" fill="#36369f"/><rect x="433.30" y="136.51" width="9.06" height="8.46" fill="#036ae1"/><rect x="442.31" y="136.51" width="6.06" height="8.46" fill="#0364e1"/><rect x="448.32" y="136.51" width="54.16" height="8.46" fill="#0860df"/><rect x="502.44" y="136.51" width="6.06" height="8.46" fill="#1b55d7"/><rect x="508.45" y="136.51" width="6.06" height="8.46" fill="#2f46bf"/><rect x="514.46" y="136.51" width="6.06" height="8.46" fill="#353eaf"/><rect x="520.48" y="136.51" width="6.06" height="8.46" fill="#363297"/><rect x="526.49" y="136.51" width="9.06" height="8.46" fill="#362e8f"/><rect x="433.30" y="144.91" width="69.19" height="8.46" fill="#06a3cb"/><rect x="502.44" y="144.91" width="6.06" height="8.46" fill="#069ece"/><rect x="508.45" y="144.91" width="6.06" height="8.46" fill="#0d93d2"/><rect x="514.46" y="144.91" width="6.06" height="8.46" fill="#127cd8"/><rect x="520.48" y="144.91" width="6.06" height="8.46" fill="#2f46bf"/><rect x="526.49" y="144.91" width="9.06" height="8.46" fill="#363297"/><rect x="433.30" y="153.32" width="63.17" height="8.46" fill="#1481d6"/><rect x="496.43" y="153.32" width="6.06" height="8.46" fill="#137fd7"/><rect x="502.44" y="153.32" width="6.06" height="8.46" fill="#0f77db"/><rect x="508.45" y="153.32" width="6.06" height="8.46" fill="#056de0"/><rect x="514.46" y="153.32" width="6.06" height="8.46" fill="#0860df"/><rect x="520.48" y="153.32" width="6.06" height="8.46" fill="#3342b7"/><rect x="526.49" y="153.32" width="9.06" height="8.46" fill="#363297"/><rect x="433.30" y="161.72" width="9.06" height="8.46" fill="#0267e1"/><rect x="442.31" y="161.72" width="54.16" height="8.46" fill="#0364e1"/><rect x="496.43" y="161.72" width="6.06" height="8.46" fill="#0860df"/><rect x="502.44" y="161.72" width="6.06" height="8.46" fill="#1b55d7"/><rect x="508.45" y="161.72" width="6.06" height="8.46" fill="#2f46bf"/><rect x="514.46" y="161.72" width="6.06" height="8.46" fill="#353eaf"/><rect x="520.48" y="161.72" width="6.06" height="8.46" fill="#363297"/><rect x="526.49" y="161.72" width="9.06" height="8.46" fill="#362e8f"/><rect x="433.30" y="170.13" width="9.06" height="8.46" fill="#06a0cd"/><rect x="442.31" y="170.13" width="12.08" height="8.46" fill="#079cd0"/><rect x="454.34" y="170.13" width="42.14" height="8.46" fill="#0899d1"/><rect x="496.43" y="170.13" width="6.06" height="8.46" fill="#0d93d2"/><rect x="502.44" y="170.13" width="6.06" height="8.46" fill="#1389d3"/><rect x="508.45" y="170.13" width="6.06" height="8.46" fill="#1481d6"/><rect x="514.46" y="170.13" width="6.06" height="8.46" fill="#0f77db"/><rect x="520.48" y="170.13" width="6.06" height="8.46" fill="#2f46bf"/><rect x="526.49" y="170.13" width="9.06" height="8.46" fill="#363297"/><rect x="433.30" y="178.53" width="9.06" height="8.46" fill="#0364e1"/><rect x="442.31" y="178.53" width="54.16" height="8.46" fill="#0860df"/><rect x="496.43" y="178.53" width="6.06" height="8.46" fill="#105bdd"/><rect x="502.44" y="178.53" width="6.06" height="8.46" fill="#1b55d7"/><rect x="508.45" y="178.53" width="6.06" height="8.46" fill="#2f46bf"/><rect x="514.46" y="178.53" width="6.06" height="8.46" fill="#353eaf"/><rect x="520.48" y="178.53" width="6.06" height="8.46" fill="#363297"/><rect x="526.49" y="178.53" width="9.06" height="8.46" fill="#362e8f"/><rect x="433.30" y="186.94" width="9.06" height="8.46" fill="#0860df"/><rect x="442.31" y="186.94" width="6.06" height="8.46" fill="#1b55d7"/><rect x="448.32" y="186.94" width="6.06" height="8.46" fill="#2b4bc7"/><rect x="454.34" y="186.94" width="30.11" height="8.46" fill="#2f46bf"/><rect x="484.40" y="186.94" width="6.06" height="8.46" fill="#2b4bc7"/><rect x="490.41" y="186.94" width="12.07" height="8.46" fill="#2450cf"/><rect x="502.44" y="186.94" width="6.06" height="8.46" fill="#2f46bf"/><rect x="508.45" y="186.94" width="6.06" height="8.46" fill="#353eaf"/><rect x="514.46" y="186.94" width="6.06" height="8.46" fill="#363aa7"/><rect x="520.48" y="186.94" width="6.06" height="8.46" fill="#363297"/><rect x="526.49" y="186.94" width="9.06" height="8.46" fill="#362e8f"/><rect x="433.30" y="195.34" width="9.06" height="11.46" fill="#1481d6"/><rect x="442.31" y="195.34" width="6.06" height="11.46" fill="#127cd8"/><rect x="448.32" y="195.34" width="12.08" height="11.46" fill="#0f77db"/><rect x="460.35" y="195.34" width="6.06" height="11.46" fill="#0d75dc"/><rect x="466.36" y="195.34" width="30.11" height="11.46" fill="#0a72de"/><rect x="496.43" y="195.34" width="6.06" height="11.46" fill="#0770df"/><rect x="502.44" y="195.34" width="6.06" height="11.46" fill="#0267e1"/><rect x="508.45" y="195.34" width="6.06" height="11.46" fill="#1b55d7"/><rect x="514.46" y="195.34" width="6.06" height="11.46" fill="#2b4bc7"/><rect x="520.48" y="195.34" width="6.06" height="11.46" fill="#36369f"/><rect x="526.49" y="195.34" width="9.06" height="11.46" fill="#363297"/></g></g></g>
<text class="t" x="434.80" y="126.10" text-anchor="end">x1</text><text class="t" x="434.80" y="134.51" text-anchor="end">x2</text><text class="t" x="434.80" y="142.91" text-anchor="end">x3</text><text class="t" x="434.80" y="151.32" text-anchor="end">x4</text><text class="t" x="434.80" y="159.72" text-anchor="end">x5</text><text class="t" x="434.80" y="168.13" text-anchor="end">x6</text><text class="t" x="434.80" y="176.53" text-anchor="end">x7</text><text class="t" x="434.80" y="184.94" text-anchor="end">x8</text><text class="t" x="434.80" y="193.34" text-anchor="end">x9</text><text class="t" x="434.80" y="201.75" text-anchor="end">x10</text><text class="t" x="445.32" y="208.85" text-anchor="middle">9</text><text class="t" x="457.34" y="208.85" text-anchor="middle">11</text><text class="t" x="469.37" y="208.85" text-anchor="middle">13</text><text class="t" x="481.39" y="208.85" text-anchor="middle">15</text><text class="t" x="493.42" y="208.85" text-anchor="middle">17</text><text class="t" x="505.44" y="208.85" text-anchor="middle">19</text><text class="t" x="517.47" y="208.85" text-anchor="middle">21</text><text class="t" x="529.49" y="208.85" text-anchor="middle">23</text>
<text class="l" x="482.00" y="221.40" text-anchor="middle">(<tspan font-weight="bold">h</tspan>)</text>
<clipPath id="cp_i"><rect x="14.40" y="227.30" width="93.70" height="83.40"/></clipPath><g filter="url(#b2)"><g clip-path="url(#cp_i)"><g filter="url(#b)" shape-rendering="crispEdges"><rect x="11.40" y="224.30" width="8.91" height="11.39" fill="#127cd8"/><rect x="20.26" y="224.30" width="5.91" height="11.39" fill="#0f77db"/><rect x="26.11" y="224.30" width="35.19" height="11.39" fill="#0364e1"/><rect x="61.25" y="224.30" width="5.91" height="11.39" fill="#036ae1"/><rect x="67.11" y="224.30" width="5.91" height="11.39" fill="#127cd8"/><rect x="72.96" y="224.30" width="5.91" height="11.39" fill="#1484d4"/><rect x="78.82" y="224.30" width="5.91" height="11.39" fill="#117ada"/><rect x="84.67" y="224.30" width="5.91" height="11.39" fill="#105bdd"/><rect x="90.53" y="224.30" width="5.91" height="11.39" fill="#1b55d7"/><rect x="96.39" y="224.30" width="5.91" height="11.39" fill="#353eaf"/><rect x="102.24" y="224.30" width="8.91" height="11.39" fill="#363297"/><rect x="11.40" y="235.64" width="8.91" height="8.39" fill="#f5ec18"/><rect x="20.26" y="235.64" width="5.91" height="8.39" fill="#f6ba46"/><rect x="26.11" y="235.64" width="5.91" height="8.39" fill="#3fba99"/><rect x="31.97" y="235.64" width="17.62" height="8.39" fill="#18b1b2"/><rect x="49.54" y="235.64" width="5.91" height="8.39" fill="#27b5a8"/><rect x="55.39" y="235.64" width="5.91" height="8.39" fill="#3fba99"/><rect x="61.25" y="235.64" width="5.91" height="8.39" fill="#9bbf6f"/><rect x="67.11" y="235.64" width="5.91" height="8.39" fill="#ffc436"/><rect x="72.96" y="235.64" width="5.91" height="8.39" fill="#f5ec18"/><rect x="78.82" y="235.64" width="5.91" height="8.39" fill="#adbe68"/><rect x="84.67" y="235.64" width="5.91" height="8.39" fill="#18b1b2"/><rect x="90.53" y="235.64" width="5.91" height="8.39" fill="#06a8c4"/><rect x="96.39" y="235.64" width="5.91" height="8.39" fill="#0f77db"/><rect x="102.24" y="235.64" width="8.91" height="8.39" fill="#36369f"/><rect x="11.40" y="243.98" width="8.91" height="8.39" fill="#0267e1"/><rect x="20.26" y="243.98" width="5.91" height="8.39" fill="#105bdd"/><rect x="26.11" y="243.98" width="35.19" height="8.39" fill="#353eaf"/><rect x="61.25" y="243.98" width="5.91" height="8.39" fill="#2f46bf"/><rect x="67.11" y="243.98" width="11.76" height="8.39" fill="#105bdd"/><rect x="78.82" y="243.98" width="5.91" height="8.39" fill="#1b55d7"/><rect x="84.67" y="243.98" width="5.91" height="8.39" fill="#353eaf"/><rect x="90.53" y="243.98" width="5.91" height="8.39" fill="#363aa7"/><rect x="96.39" y="243.98" width="5.91" height="8.39" fill="#363297"/><rect x="102.24" y="243.98" width="8.91" height="8.39" fill="#362e8f"/><rect x="11.40" y="252.32" width="8.91" height="8.39" fill="#0d93d2"/><rect x="20.26" y="252.32" width="5.91" height="8.39" fill="#118cd2"/><rect x="26.11" y="252.32" width="35.19" height="8.39" fill="#117ada"/><rect x="61.25" y="252.32" width="5.91" height="8.39" fill="#127cd8"/><rect x="67.11" y="252.32" width="5.91" height="8.39" fill="#1486d3"/><rect x="72.96" y="252.32" width="5.91" height="8.39" fill="#118cd2"/><rect x="78.82" y="252.32" width="5.91" height="8.39" fill="#1484d4"/><rect x="84.67" y="252.32" width="5.91" height="8.39" fill="#0770df"/><rect x="90.53" y="252.32" width="5.91" height="8.39" fill="#036ae1"/><rect x="96.39" y="252.32" width="5.91" height="8.39" fill="#1b55d7"/><rect x="102.24" y="252.32" width="8.91" height="8.39" fill="#36369f"/><rect x="11.40" y="260.66" width="8.91" height="8.39" fill="#0cadbb"/><rect x="20.26" y="260.66" width="5.91" height="8.39" fill="#079cd0"/><rect x="26.11" y="260.66" width="5.91" height="8.39" fill="#127cd8"/><rect x="31.97" y="260.66" width="29.33" height="8.39" fill="#117ada"/><rect x="61.25" y="260.66" width="5.91" height="8.39" fill="#1481d6"/><rect x="67.11" y="260.66" width="5.91" height="8.39" fill="#069ece"/><rect x="72.96" y="260.66" width="5.91" height="8.39" fill="#14b0b5"/><rect x="78.82" y="260.66" width="5.91" height="8.39" fill="#0a96d1"/><rect x="84.67" y="260.66" width="5.91" height="8.39" fill="#0f77db"/><rect x="90.53" y="260.66" width="5.91" height="8.39" fill="#0d75dc"/><rect x="96.39" y="260.66" width="5.91" height="8.39" fill="#105bdd"/><rect x="102.24" y="260.66" width="8.91" height="8.39" fill="#36369f"/><rect x="11.40" y="269.00" width="8.91" height="8.39" fill="#0770df"/><rect x="20.26" y="269.00" width="5.91" height="8.39" fill="#056de0"/><rect x="26.11" y="269.00" width="5.91" height="8.39" fill="#1b55d7"/><rect x="31.97" y="269.00" width="29.33" height="8.39" fill="#2450cf"/><rect x="61.25" y="269.00" width="5.91" height="8.39" fill="#1b55d7"/><rect x="67.11" y="269.00" width="5.91" height="8.39" fill="#0267e1"/><rect x="72.96" y="269.00" width="5.91" height="8.39" fill="#0f77db"/><rect x="78.82" y="269.00" width="5.91" height="8.39" fill="#0267e1"/><rect x="84.67" y="269.00" width="5.91" height="8.39" fill="#1b55d7"/><rect x="90.53" y="269.00" width="5.91" height="8.39" fill="#2450cf"/><rect x="96.39" y="269.00" width="5.91" height="8.39" fill="#3342b7"/><rect x="102.24" y="269.00" width="8.91" height="8.39" fill="#363297"/><rect x="11.40" y="277.34" width="8.91" height="8.39" fill="#0a96d1"/><rect x="20.26" y="277.34" width="5.91" height="8.39" fill="#0d93d2"/><rect x="26.11" y="277.34" width="35.19" height="8.39" fill="#0d75dc"/><rect x="61.25" y="277.34" width="5.91" height="8.39" fill="#137fd7"/><rect x="67.11" y="277.34" width="5.91" height="8.39" fill="#0a96d1"/><rect x="72.96" y="277.34" width="5.91" height="8.39" fill="#07aac1"/><rect x="78.82" y="277.34" width="5.91" height="8.39" fill="#0f8fd2"/><rect x="84.67" y="277.34" width="11.76" height="8.39" fill="#0a72de"/><rect x="96.39" y="277.34" width="5.91" height="8.39" fill="#2450cf"/><rect x="102.24" y="277.34" width="8.91" height="8.39" fill="#363297"/><rect x="11.40" y="285.68" width="8.91" height="8.39" fill="#0364e1"/><rect x="20.26" y="285.68" width="5.91" height="8.39" fill="#105bdd"/><rect x="26.11" y="285.68" width="5.91" height="8.39" fill="#2b4bc7"/><rect x="31.97" y="285.68" width="29.33" height="8.39" fill="#2f46bf"/><rect x="61.25" y="285.68" width="5.91" height="8.39" fill="#2b4bc7"/><rect x="67.11" y="285.68" width="5.91" height="8.39" fill="#105bdd"/><rect x="72.96" y="285.68" width="5.91" height="8.39" fill="#0364e1"/><rect x="78.82" y="285.68" width="5.91" height="8.39" fill="#1b55d7"/><rect x="84.67" y="285.68" width="5.91" height="8.39" fill="#3342b7"/><rect x="90.53" y="285.68" width="5.91" height="8.39" fill="#363aa7"/><rect x="96.39" y="285.68" width="5.91" height="8.39" fill="#363297"/><rect x="102.24" y="285.68" width="8.91" height="8.39" fill="#362e8f"/><rect x="11.40" y="294.02" width="8.91" height="8.39" fill="#0860df"/><rect x="20.26" y="294.02" width="5.91" height="8.39" fill="#2450cf"/><rect x="26.11" y="294.02" width="35.19" height="8.39" fill="#363aa7"/><rect x="61.25" y="294.02" width="5.91" height="8.39" fill="#3342b7"/><rect x="67.11" y="294.02" width="5.91" height="8.39" fill="#1b55d7"/><rect x="72.96" y="294.02" width="5.91" height="8.39" fill="#105bdd"/><rect x="78.82" y="294.02" width="5.91" height="8.39" fill="#1b55d7"/><rect x="84.67" y="294.02" width="5.91" height="8.39" fill="#363aa7"/><rect x="90.53" y="294.02" width="5.91" height="8.39" fill="#36369f"/><rect x="96.39" y="294.02" width="5.91" height="8.39" fill="#363297"/><rect x="102.24" y="294.02" width="8.91" height="8.39" fill="#362e8f"/><rect x="11.40" y="302.36" width="8.91" height="11.39" fill="#127cd8"/><rect x="20.26" y="302.36" width="5.91" height="11.39" fill="#0a72de"/><rect x="26.11" y="302.36" width="35.19" height="11.39" fill="#0860df"/><rect x="61.25" y="302.36" width="5.91" height="11.39" fill="#0267e1"/><rect x="67.11" y="302.36" width="5.91" height="11.39" fill="#0770df"/><rect x="72.96" y="302.36" width="5.91" height="11.39" fill="#0a72de"/><rect x="78.82" y="302.36" width="5.91" height="11.39" fill="#036ae1"/><rect x="84.67" y="302.36" width="5.91" height="11.39" fill="#2b4bc7"/><rect x="90.53" y="302.36" width="5.91" height="11.39" fill="#3342b7"/><rect x="96.39" y="302.36" width="5.91" height="11.39" fill="#36369f"/><rect x="102.24" y="302.36" width="8.91" height="11.39" fill="#363297"/></g></g></g>
<text class="t" x="12.90" y="233.67" text-anchor="end">x1</text><text class="t" x="12.90" y="242.01" text-anchor="end">x2</text><text class="t" x="12.90" y="250.35" text-anchor="end">x3</text><text class="t" x="12.90" y="258.69" text-anchor="end">x4</text><text class="t" x="12.90" y="267.03" text-anchor="end">x5</text><text class="t" x="12.90" y="275.37" text-anchor="end">x6</text><text class="t" x="12.90" y="283.71" text-anchor="end">x7</text><text class="t" x="12.90" y="292.05" text-anchor="end">x8</text><text class="t" x="12.90" y="300.39" text-anchor="end">x9</text><text class="t" x="12.90" y="308.73" text-anchor="end">x10</text><text class="t" x="23.18" y="315.80" text-anchor="middle">9</text><text class="t" x="34.90" y="315.80" text-anchor="middle">11</text><text class="t" x="46.61" y="315.80" text-anchor="middle">13</text><text class="t" x="58.32" y="315.80" text-anchor="middle">15</text><text class="t" x="70.03" y="315.80" text-anchor="middle">17</text><text class="t" x="81.75" y="315.80" text-anchor="middle">19</text><text class="t" x="93.46" y="315.80" text-anchor="middle">21</text><text class="t" x="105.17" y="315.80" text-anchor="middle">23</text>
<text class="l" x="59.40" y="330.50" text-anchor="middle">(<tspan font-weight="bold">i</tspan>)</text>
<clipPath id="cp_j"><rect x="152.70" y="228.00" width="96.00" height="82.90"/></clipPath><g filter="url(#b2)"><g clip-path="url(#cp_j)"><g filter="url(#b)" shape-rendering="crispEdges"><rect x="149.70" y="225.00" width="9.05" height="11.34" fill="#0f77db"/><rect x="158.70" y="225.00" width="6.05" height="11.34" fill="#0364e1"/><rect x="164.70" y="225.00" width="36.05" height="11.34" fill="#105bdd"/><rect x="200.70" y="225.00" width="6.05" height="11.34" fill="#0860df"/><rect x="206.70" y="225.00" width="6.05" height="11.34" fill="#0a72de"/><rect x="212.70" y="225.00" width="6.05" height="11.34" fill="#0d75dc"/><rect x="218.70" y="225.00" width="6.05" height="11.34" fill="#0267e1"/><rect x="224.70" y="225.00" width="6.05" height="11.34" fill="#1b55d7"/><rect x="230.70" y="225.00" width="6.05" height="11.34" fill="#2b4bc7"/><rect x="236.70" y="225.00" width="6.05" height="11.34" fill="#363aa7"/><rect x="242.70" y="225.00" width="9.05" height="11.34" fill="#363297"/><rect x="149.70" y="236.29" width="9.05" height="8.34" fill="#f7f611"/><rect x="158.70" y="236.29" width="6.05" height="8.34" fill="#7abf7c"/><rect x="164.70" y="236.29" width="6.05" height="8.34" fill="#18b1b2"/><rect x="170.70" y="236.29" width="18.05" height="8.34" fill="#14b0b5"/><rect x="188.70" y="236.29" width="6.05" height="8.34" fill="#18b1b2"/><rect x="194.70" y="236.29" width="6.05" height="8.34" fill="#33b8a1"/><rect x="200.70" y="236.29" width="6.05" height="8.34" fill="#6bbf83"/><rect x="206.70" y="236.29" width="6.05" height="8.34" fill="#fec13a"/><rect x="212.70" y="236.29" width="6.05" height="8.34" fill="#f6ba46"/><rect x="218.70" y="236.29" width="6.05" height="8.34" fill="#3fba99"/><rect x="224.70" y="236.29" width="6.05" height="8.34" fill="#09acbe"/><rect x="230.70" y="236.29" width="6.05" height="8.34" fill="#06a6c6"/><rect x="236.70" y="236.29" width="6.05" height="8.34" fill="#0d75dc"/><rect x="242.70" y="236.29" width="9.05" height="8.34" fill="#363297"/><rect x="149.70" y="244.58" width="9.05" height="8.34" fill="#0267e1"/><rect x="158.70" y="244.58" width="6.05" height="8.34" fill="#2f46bf"/><rect x="164.70" y="244.58" width="36.05" height="8.34" fill="#363aa7"/><rect x="200.70" y="244.58" width="6.05" height="8.34" fill="#3342b7"/><rect x="206.70" y="244.58" width="12.05" height="8.34" fill="#0860df"/><rect x="218.70" y="244.58" width="6.05" height="8.34" fill="#2450cf"/><rect x="224.70" y="244.58" width="6.05" height="8.34" fill="#353eaf"/><rect x="230.70" y="244.58" width="6.05" height="8.34" fill="#363aa7"/><rect x="236.70" y="244.58" width="6.05" height="8.34" fill="#363297"/><rect x="242.70" y="244.58" width="9.05" height="8.34" fill="#362e8f"/><rect x="149.70" y="252.87" width="9.05" height="8.34" fill="#079cd0"/><rect x="158.70" y="252.87" width="6.05" height="8.34" fill="#127cd8"/><rect x="164.70" y="252.87" width="36.05" height="8.34" fill="#036ae1"/><rect x="200.70" y="252.87" width="6.05" height="8.34" fill="#056de0"/><rect x="206.70" y="252.87" width="12.05" height="8.34" fill="#117ada"/><rect x="218.70" y="252.87" width="6.05" height="8.34" fill="#056de0"/><rect x="224.70" y="252.87" width="12.05" height="8.34" fill="#105bdd"/><rect x="236.70" y="252.87" width="6.05" height="8.34" fill="#3342b7"/><rect x="242.70" y="252.87" width="9.05" height="8.34" fill="#363297"/><rect x="149.70" y="261.16" width="9.05" height="8.34" fill="#0cadbb"/><rect x="158.70" y="261.16" width="6.05" height="8.34" fill="#118cd2"/><rect x="164.70" y="261.16" width="36.05" height="8.34" fill="#0770df"/><rect x="200.70" y="261.16" width="6.05" height="8.34" fill="#0f77db"/><rect x="206.70" y="261.16" width="12.05" height="8.34" fill="#079cd0"/><rect x="218.70" y="261.16" width="6.05" height="8.34" fill="#0f77db"/><rect x="224.70" y="261.16" width="12.05" height="8.34" fill="#0860df"/><rect x="236.70" y="261.16" width="6.05" height="8.34" fill="#3342b7"/><rect x="242.70" y="261.16" width="9.05" height="8.34" fill="#363297"/><rect x="149.70" y="269.45" width="9.05" height="8.34" fill="#1481d6"/><rect x="158.70" y="269.45" width="6.05" height="8.34" fill="#0364e1"/><rect x="164.70" y="269.45" width="36.05" height="8.34" fill="#2b4bc7"/><rect x="200.70" y="269.45" width="6.05" height="8.34" fill="#1b55d7"/><rect x="206.70" y="269.45" width="12.05" height="8.34" fill="#036ae1"/><rect x="218.70" y="269.45" width="6.05" height="8.34" fill="#1b55d7"/><rect x="224.70" y="269.45" width="12.05" height="8.34" fill="#2f46bf"/><rect x="236.70" y="269.45" width="6.05" height="8.34" fill="#363aa7"/><rect x="242.70" y="269.45" width="9.05" height="8.34" fill="#363297"/><rect x="149.70" y="277.74" width="9.05" height="8.34" fill="#07aac1"/><rect x="158.70" y="277.74" width="6.05" height="8.34" fill="#1486d3"/><rect x="164.70" y="277.74" width="30.05" height="8.34" fill="#036ae1"/><rect x="194.70" y="277.74" width="6.05" height="8.34" fill="#056de0"/><rect x="200.70" y="277.74" width="6.05" height="8.34" fill="#0d75dc"/><rect x="206.70" y="277.74" width="12.05" height="8.34" fill="#0d93d2"/><rect x="218.70" y="277.74" width="6.05" height="8.34" fill="#0f77db"/><rect x="224.70" y="277.74" width="12.05" height="8.34" fill="#0364e1"/><rect x="236.70" y="277.74" width="6.05" height="8.34" fill="#3342b7"/><rect x="242.70" y="277.74" width="9.05" height="8.34" fill="#363297"/><rect x="149.70" y="286.03" width="9.05" height="8.34" fill="#0267e1"/><rect x="158.70" y="286.03" width="6.05" height="8.34" fill="#2b4bc7"/><rect x="164.70" y="286.03" width="36.05" height="8.34" fill="#353eaf"/><rect x="200.70" y="286.03" width="6.05" height="8.34" fill="#3342b7"/><rect x="206.70" y="286.03" width="12.05" height="8.34" fill="#105bdd"/><rect x="218.70" y="286.03" width="6.05" height="8.34" fill="#2b4bc7"/><rect x="224.70" y="286.03" width="6.05" height="8.34" fill="#363aa7"/><rect x="230.70" y="286.03" width="6.05" height="8.34" fill="#36369f"/><rect x="236.70" y="286.03" width="6.05" height="8.34" fill="#363297"/><rect x="242.70" y="286.03" width="9.05" height="8.34" fill="#362e8f"/><rect x="149.70" y="294.32" width="9.05" height="8.34" fill="#0860df"/><rect x="158.70" y="294.32" width="6.05" height="8.34" fill="#3342b7"/><rect x="164.70" y="294.32" width="36.05" height="8.34" fill="#36369f"/><rect x="200.70" y="294.32" width="6.05" height="8.34" fill="#353eaf"/><rect x="206.70" y="294.32" width="12.05" height="8.34" fill="#1b55d7"/><rect x="218.70" y="294.32" width="6.05" height="8.34" fill="#2b4bc7"/><rect x="224.70" y="294.32" width="6.05" height="8.34" fill="#36369f"/><rect x="230.70" y="294.32" width="12.05" height="8.34" fill="#363297"/><rect x="242.70" y="294.32" width="9.05" height="8.34" fill="#362e8f"/><rect x="149.70" y="302.61" width="9.05" height="11.34" fill="#127cd8"/><rect x="158.70" y="302.61" width="6.05" height="11.34" fill="#0267e1"/><rect x="164.70" y="302.61" width="36.05" height="11.34" fill="#1b55d7"/><rect x="200.70" y="302.61" width="6.05" height="11.34" fill="#0364e1"/><rect x="206.70" y="302.61" width="6.05" height="11.34" fill="#0a72de"/><rect x="212.70" y="302.61" width="6.05" height="11.34" fill="#127cd8"/><rect x="218.70" y="302.61" width="6.05" height="11.34" fill="#0a72de"/><rect x="224.70" y="302.61" width="6.05" height="11.34" fill="#2b4bc7"/><rect x="230.70" y="302.61" width="6.05" height="11.34" fill="#3342b7"/><rect x="236.70" y="302.61" width="6.05" height="11.34" fill="#36369f"/><rect x="242.70" y="302.61" width="9.05" height="11.34" fill="#363297"/></g></g></g>
<text class="t" x="151.20" y="234.34" text-anchor="end">x1</text><text class="t" x="151.20" y="242.63" text-anchor="end">x2</text><text class="t" x="151.20" y="250.92" text-anchor="end">x3</text><text class="t" x="151.20" y="259.21" text-anchor="end">x4</text><text class="t" x="151.20" y="267.50" text-anchor="end">x5</text><text class="t" x="151.20" y="275.79" text-anchor="end">x6</text><text class="t" x="151.20" y="284.08" text-anchor="end">x7</text><text class="t" x="151.20" y="292.37" text-anchor="end">x8</text><text class="t" x="151.20" y="300.66" text-anchor="end">x9</text><text class="t" x="151.20" y="308.95" text-anchor="end">x10</text><text class="t" x="161.70" y="316.00" text-anchor="middle">9</text><text class="t" x="173.70" y="316.00" text-anchor="middle">11</text><text class="t" x="185.70" y="316.00" text-anchor="middle">13</text><text class="t" x="197.70" y="316.00" text-anchor="middle">15</text><text class="t" x="209.70" y="316.00" text-anchor="middle">17</text><text class="t" x="221.70" y="316.00" text-anchor="middle">19</text><text class="t" x="233.70" y="316.00" text-anchor="middle">21</text><text class="t" x="245.70" y="316.00" text-anchor="middle">23</text>
<text class="l" x="198.40" y="330.50" text-anchor="middle">(<tspan font-weight="bold">j</tspan>)</text>
<clipPath id="cp_k"><rect x="295.45" y="226.50" width="95.95" height="84.30"/></clipPath><g filter="url(#b2)"><g clip-path="url(#cp_k)"><g filter="url(#b)" shape-rendering="crispEdges"><rect x="292.45" y="223.50" width="15.04" height="11.48" fill="#127cd8"/><rect x="307.44" y="223.50" width="54.02" height="11.48" fill="#117ada"/><rect x="361.42" y="223.50" width="6.05" height="11.48" fill="#0f77db"/><rect x="367.41" y="223.50" width="6.05" height="11.48" fill="#056de0"/><rect x="373.41" y="223.50" width="6.05" height="11.48" fill="#0364e1"/><rect x="379.41" y="223.50" width="6.05" height="11.48" fill="#2f46bf"/><rect x="385.40" y="223.50" width="9.05" height="11.48" fill="#363297"/><rect x="292.45" y="234.93" width="9.05" height="8.48" fill="#fabc42"/><rect x="301.45" y="234.93" width="6.05" height="8.48" fill="#f6dc23"/><rect x="307.44" y="234.93" width="6.05" height="8.48" fill="#fad12b"/><rect x="313.44" y="234.93" width="6.05" height="8.48" fill="#fec13a"/><rect x="319.44" y="234.93" width="18.04" height="8.48" fill="#fdbe3e"/><rect x="337.43" y="234.93" width="6.05" height="8.48" fill="#ffc436"/><rect x="343.42" y="234.93" width="6.05" height="8.48" fill="#fdcb30"/><rect x="349.42" y="234.93" width="6.05" height="8.48" fill="#f5ec18"/><rect x="355.42" y="234.93" width="6.05" height="8.48" fill="#f9d528"/><rect x="361.42" y="234.93" width="6.05" height="8.48" fill="#ecb94c"/><rect x="367.41" y="234.93" width="6.05" height="8.48" fill="#88bf77"/><rect x="373.41" y="234.93" width="6.05" height="8.48" fill="#18b1b2"/><rect x="379.41" y="234.93" width="6.05" height="8.48" fill="#0f77db"/><rect x="385.40" y="234.93" width="9.05" height="8.48" fill="#36369f"/><rect x="292.45" y="243.36" width="15.04" height="8.48" fill="#0267e1"/><rect x="307.44" y="243.36" width="54.02" height="8.48" fill="#0364e1"/><rect x="361.42" y="243.36" width="6.05" height="8.48" fill="#0860df"/><rect x="367.41" y="243.36" width="6.05" height="8.48" fill="#1b55d7"/><rect x="373.41" y="243.36" width="6.05" height="8.48" fill="#3342b7"/><rect x="379.41" y="243.36" width="6.05" height="8.48" fill="#363297"/><rect x="385.40" y="243.36" width="9.05" height="8.48" fill="#362e8f"/><rect x="292.45" y="251.79" width="9.05" height="8.48" fill="#0d93d2"/><rect x="301.45" y="251.79" width="48.03" height="8.48" fill="#079cd0"/><rect x="349.42" y="251.79" width="12.04" height="8.48" fill="#069ece"/><rect x="361.42" y="251.79" width="6.05" height="8.48" fill="#0899d1"/><rect x="367.41" y="251.79" width="6.05" height="8.48" fill="#0d93d2"/><rect x="373.41" y="251.79" width="6.05" height="8.48" fill="#1481d6"/><rect x="379.41" y="251.79" width="6.05" height="8.48" fill="#2450cf"/><rect x="385.40" y="251.79" width="9.05" height="8.48" fill="#363297"/><rect x="292.45" y="260.22" width="9.05" height="8.48" fill="#079cd0"/><rect x="301.45" y="260.22" width="42.03" height="8.48" fill="#06a3cb"/><rect x="343.42" y="260.22" width="6.05" height="8.48" fill="#06a5c9"/><rect x="349.42" y="260.22" width="6.05" height="8.48" fill="#1db3af"/><rect x="355.42" y="260.22" width="6.05" height="8.48" fill="#07aac1"/><rect x="361.42" y="260.22" width="6.05" height="8.48" fill="#06a0cd"/><rect x="367.41" y="260.22" width="6.05" height="8.48" fill="#0899d1"/><rect x="373.41" y="260.22" width="6.05" height="8.48" fill="#1486d3"/><rect x="379.41" y="260.22" width="6.05" height="8.48" fill="#2450cf"/><rect x="385.40" y="260.22" width="9.05" height="8.48" fill="#363297"/><rect x="292.45" y="268.65" width="57.02" height="8.48" fill="#036ae1"/><rect x="349.42" y="268.65" width="12.04" height="8.48" fill="#056de0"/><rect x="361.42" y="268.65" width="6.05" height="8.48" fill="#0267e1"/><rect x="367.41" y="268.65" width="6.05" height="8.48" fill="#0860df"/><rect x="373.41" y="268.65" width="6.05" height="8.48" fill="#2b4bc7"/><rect x="379.41" y="268.65" width="6.05" height="8.48" fill="#363297"/><rect x="385.40" y="268.65" width="9.05" height="8.48" fill="#362e8f"/><rect x="292.45" y="277.08" width="9.05" height="8.48" fill="#0d93d2"/><rect x="301.45" y="277.08" width="12.04" height="8.48" fill="#079cd0"/><rect x="313.44" y="277.08" width="30.03" height="8.48" fill="#0a96d1"/><rect x="343.42" y="277.08" width="18.04" height="8.48" fill="#069ece"/><rect x="361.42" y="277.08" width="6.05" height="8.48" fill="#0d93d2"/><rect x="367.41" y="277.08" width="6.05" height="8.48" fill="#1486d3"/><rect x="373.41" y="277.08" width="6.05" height="8.48" fill="#137fd7"/><rect x="379.41" y="277.08" width="6.05" height="8.48" fill="#2450cf"/><rect x="385.40" y="277.08" width="9.05" height="8.48" fill="#363297"/><rect x="292.45" y="285.51" width="69.02" height="8.48" fill="#0364e1"/><rect x="361.42" y="285.51" width="6.05" height="8.48" fill="#0860df"/><rect x="367.41" y="285.51" width="6.05" height="8.48" fill="#105bdd"/><rect x="373.41" y="285.51" width="6.05" height="8.48" fill="#2f46bf"/><rect x="379.41" y="285.51" width="6.05" height="8.48" fill="#36369f"/><rect x="385.40" y="285.51" width="9.05" height="8.48" fill="#362e8f"/><rect x="292.45" y="293.94" width="21.04" height="8.48" fill="#1b55d7"/><rect x="313.44" y="293.94" width="6.05" height="8.48" fill="#2450cf"/><rect x="319.44" y="293.94" width="12.04" height="8.48" fill="#2b4bc7"/><rect x="331.43" y="293.94" width="18.04" height="8.48" fill="#2f46bf"/><rect x="349.42" y="293.94" width="6.05" height="8.48" fill="#2b4bc7"/><rect x="355.42" y="293.94" width="12.04" height="8.48" fill="#2450cf"/><rect x="367.41" y="293.94" width="6.05" height="8.48" fill="#3342b7"/><rect x="373.41" y="293.94" width="6.05" height="8.48" fill="#353eaf"/><rect x="379.41" y="293.94" width="6.05" height="8.48" fill="#363297"/><rect x="385.40" y="293.94" width="9.05" height="8.48" fill="#362e8f"/><rect x="292.45" y="302.37" width="15.04" height="11.48" fill="#1481d6"/><rect x="307.44" y="302.37" width="6.05" height="11.48" fill="#127cd8"/><rect x="313.44" y="302.37" width="12.04" height="11.48" fill="#0f77db"/><rect x="325.43" y="302.37" width="6.05" height="11.48" fill="#0d75dc"/><rect x="331.43" y="302.37" width="30.03" height="11.48" fill="#0a72de"/><rect x="361.42" y="302.37" width="6.05" height="11.48" fill="#056de0"/><rect x="367.41" y="302.37" width="6.05" height="11.48" fill="#105bdd"/><rect x="373.41" y="302.37" width="6.05" height="11.48" fill="#2450cf"/><rect x="379.41" y="302.37" width="6.05" height="11.48" fill="#353eaf"/><rect x="385.40" y="302.37" width="9.05" height="11.48" fill="#363297"/></g></g></g>
<text class="t" x="293.95" y="232.91" text-anchor="end">x1</text><text class="t" x="293.95" y="241.34" text-anchor="end">x2</text><text class="t" x="293.95" y="249.77" text-anchor="end">x3</text><text class="t" x="293.95" y="258.20" text-anchor="end">x4</text><text class="t" x="293.95" y="266.63" text-anchor="end">x5</text><text class="t" x="293.95" y="275.06" text-anchor="end">x6</text><text class="t" x="293.95" y="283.50" text-anchor="end">x7</text><text class="t" x="293.95" y="291.93" text-anchor="end">x8</text><text class="t" x="293.95" y="300.36" text-anchor="end">x9</text><text class="t" x="293.95" y="308.79" text-anchor="end">x10</text><text class="t" x="304.45" y="315.90" text-anchor="middle">9</text><text class="t" x="316.44" y="315.90" text-anchor="middle">11</text><text class="t" x="328.43" y="315.90" text-anchor="middle">13</text><text class="t" x="340.43" y="315.90" text-anchor="middle">15</text><text class="t" x="352.42" y="315.90" text-anchor="middle">17</text><text class="t" x="364.41" y="315.90" text-anchor="middle">19</text><text class="t" x="376.41" y="315.90" text-anchor="middle">21</text><text class="t" x="388.40" y="315.90" text-anchor="middle">23</text>
<text class="l" x="340.50" y="330.50" text-anchor="middle">(<tspan font-weight="bold">k</tspan>)</text>
<clipPath id="cp_l"><rect x="436.30" y="226.00" width="97.45" height="86.50"/></clipPath><g filter="url(#b2)"><g clip-path="url(#cp_l)"><g filter="url(#b)" shape-rendering="crispEdges"><rect x="433.30" y="223.00" width="9.14" height="11.70" fill="#1481d6"/><rect x="442.39" y="223.00" width="6.14" height="11.70" fill="#127cd8"/><rect x="448.48" y="223.00" width="54.87" height="11.70" fill="#117ada"/><rect x="503.30" y="223.00" width="6.14" height="11.70" fill="#0f77db"/><rect x="509.39" y="223.00" width="6.14" height="11.70" fill="#0d75dc"/><rect x="515.48" y="223.00" width="6.14" height="11.70" fill="#036ae1"/><rect x="521.57" y="223.00" width="6.14" height="11.70" fill="#36369f"/><rect x="527.66" y="223.00" width="9.14" height="11.70" fill="#363297"/><rect x="433.30" y="234.65" width="9.14" height="8.70" fill="#f5ec18"/><rect x="442.39" y="234.65" width="6.14" height="8.70" fill="#f7d826"/><rect x="448.48" y="234.65" width="6.14" height="8.70" fill="#ffc436"/><rect x="454.57" y="234.65" width="24.41" height="8.70" fill="#fdbe3e"/><rect x="478.93" y="234.65" width="6.14" height="8.70" fill="#ffc436"/><rect x="485.02" y="234.65" width="6.14" height="8.70" fill="#fad12b"/><rect x="491.12" y="234.65" width="6.14" height="8.70" fill="#f5ec18"/><rect x="497.21" y="234.65" width="6.14" height="8.70" fill="#fdcb30"/><rect x="503.30" y="234.65" width="6.14" height="8.70" fill="#cebb5b"/><rect x="509.39" y="234.65" width="6.14" height="8.70" fill="#6bbf83"/><rect x="515.48" y="234.65" width="6.14" height="8.70" fill="#0cadbb"/><rect x="521.57" y="234.65" width="6.14" height="8.70" fill="#0f77db"/><rect x="527.66" y="234.65" width="9.14" height="8.70" fill="#36369f"/><rect x="433.30" y="243.30" width="9.14" height="8.70" fill="#036ae1"/><rect x="442.39" y="243.30" width="6.14" height="8.70" fill="#0364e1"/><rect x="448.48" y="243.30" width="54.87" height="8.70" fill="#0860df"/><rect x="503.30" y="243.30" width="6.14" height="8.70" fill="#1b55d7"/><rect x="509.39" y="243.30" width="6.14" height="8.70" fill="#2f46bf"/><rect x="515.48" y="243.30" width="6.14" height="8.70" fill="#353eaf"/><rect x="521.57" y="243.30" width="6.14" height="8.70" fill="#363297"/><rect x="527.66" y="243.30" width="9.14" height="8.70" fill="#362e8f"/><rect x="433.30" y="251.95" width="70.05" height="8.70" fill="#06a3cb"/><rect x="503.30" y="251.95" width="6.14" height="8.70" fill="#0a96d1"/><rect x="509.39" y="251.95" width="6.14" height="8.70" fill="#1481d6"/><rect x="515.48" y="251.95" width="6.14" height="8.70" fill="#0a72de"/><rect x="521.57" y="251.95" width="6.14" height="8.70" fill="#3342b7"/><rect x="527.66" y="251.95" width="9.14" height="8.70" fill="#363297"/><rect x="433.30" y="260.60" width="9.14" height="8.70" fill="#0cadbb"/><rect x="442.39" y="260.60" width="42.68" height="8.70" fill="#07aac1"/><rect x="485.02" y="260.60" width="12.23" height="8.70" fill="#10afb9"/><rect x="497.21" y="260.60" width="6.14" height="8.70" fill="#06a6c6"/><rect x="503.30" y="260.60" width="6.14" height="8.70" fill="#0899d1"/><rect x="509.39" y="260.60" width="6.14" height="8.70" fill="#137fd7"/><rect x="515.48" y="260.60" width="6.14" height="8.70" fill="#0770df"/><rect x="521.57" y="260.60" width="6.14" height="8.70" fill="#3342b7"/><rect x="527.66" y="260.60" width="9.14" height="8.70" fill="#363297"/><rect x="433.30" y="269.25" width="9.14" height="8.70" fill="#036ae1"/><rect x="442.39" y="269.25" width="54.87" height="8.70" fill="#0267e1"/><rect x="497.21" y="269.25" width="6.14" height="8.70" fill="#0364e1"/><rect x="503.30" y="269.25" width="6.14" height="8.70" fill="#105bdd"/><rect x="509.39" y="269.25" width="6.14" height="8.70" fill="#2b4bc7"/><rect x="515.48" y="269.25" width="6.14" height="8.70" fill="#3342b7"/><rect x="521.57" y="269.25" width="6.14" height="8.70" fill="#363297"/><rect x="527.66" y="269.25" width="9.14" height="8.70" fill="#362e8f"/><rect x="433.30" y="277.90" width="9.14" height="8.70" fill="#06a5c9"/><rect x="442.39" y="277.90" width="6.14" height="8.70" fill="#06a0cd"/><rect x="448.48" y="277.90" width="6.14" height="8.70" fill="#069ece"/><rect x="454.57" y="277.90" width="42.68" height="8.70" fill="#079cd0"/><rect x="497.21" y="277.90" width="6.14" height="8.70" fill="#0a96d1"/><rect x="503.30" y="277.90" width="6.14" height="8.70" fill="#118cd2"/><rect x="509.39" y="277.90" width="6.14" height="8.70" fill="#0d75dc"/><rect x="515.48" y="277.90" width="6.14" height="8.70" fill="#036ae1"/><rect x="521.57" y="277.90" width="6.14" height="8.70" fill="#353eaf"/><rect x="527.66" y="277.90" width="9.14" height="8.70" fill="#363297"/><rect x="433.30" y="286.55" width="9.14" height="8.70" fill="#0364e1"/><rect x="442.39" y="286.55" width="54.87" height="8.70" fill="#0860df"/><rect x="497.21" y="286.55" width="6.14" height="8.70" fill="#105bdd"/><rect x="503.30" y="286.55" width="6.14" height="8.70" fill="#1b55d7"/><rect x="509.39" y="286.55" width="6.14" height="8.70" fill="#2f46bf"/><rect x="515.48" y="286.55" width="6.14" height="8.70" fill="#353eaf"/><rect x="521.57" y="286.55" width="6.14" height="8.70" fill="#363297"/><rect x="527.66" y="286.55" width="9.14" height="8.70" fill="#362e8f"/><rect x="433.30" y="295.20" width="9.14" height="8.70" fill="#0860df"/><rect x="442.39" y="295.20" width="6.14" height="8.70" fill="#1b55d7"/><rect x="448.48" y="295.20" width="6.14" height="8.70" fill="#2b4bc7"/><rect x="454.57" y="295.20" width="30.50" height="8.70" fill="#2f46bf"/><rect x="485.02" y="295.20" width="6.14" height="8.70" fill="#2b4bc7"/><rect x="491.12" y="295.20" width="12.23" height="8.70" fill="#2450cf"/><rect x="503.30" y="295.20" width="6.14" height="8.70" fill="#2f46bf"/><rect x="509.39" y="295.20" width="6.14" height="8.70" fill="#353eaf"/><rect x="515.48" y="295.20" width="6.14" height="8.70" fill="#363aa7"/><rect x="521.57" y="295.20" width="6.14" height="8.70" fill="#363297"/><rect x="527.66" y="295.20" width="9.14" height="8.70" fill="#362e8f"/><rect x="433.30" y="303.85" width="9.14" height="11.70" fill="#1481d6"/><rect x="442.39" y="303.85" width="6.14" height="11.70" fill="#127cd8"/><rect x="448.48" y="303.85" width="12.23" height="11.70" fill="#0f77db"/><rect x="460.66" y="303.85" width="6.14" height="11.70" fill="#0d75dc"/><rect x="466.75" y="303.85" width="30.50" height="11.70" fill="#0a72de"/><rect x="497.21" y="303.85" width="6.14" height="11.70" fill="#0770df"/><rect x="503.30" y="303.85" width="6.14" height="11.70" fill="#0267e1"/><rect x="509.39" y="303.85" width="6.14" height="11.70" fill="#1b55d7"/><rect x="515.48" y="303.85" width="6.14" height="11.70" fill="#2b4bc7"/><rect x="521.57" y="303.85" width="6.14" height="11.70" fill="#36369f"/><rect x="527.66" y="303.85" width="9.14" height="11.70" fill="#363297"/></g></g></g>
<text class="t" x="434.80" y="232.52" text-anchor="end">x1</text><text class="t" x="434.80" y="241.17" text-anchor="end">x2</text><text class="t" x="434.80" y="249.82" text-anchor="end">x3</text><text class="t" x="434.80" y="258.47" text-anchor="end">x4</text><text class="t" x="434.80" y="267.12" text-anchor="end">x5</text><text class="t" x="434.80" y="275.77" text-anchor="end">x6</text><text class="t" x="434.80" y="284.43" text-anchor="end">x7</text><text class="t" x="434.80" y="293.07" text-anchor="end">x8</text><text class="t" x="434.80" y="301.72" text-anchor="end">x9</text><text class="t" x="434.80" y="310.38" text-anchor="end">x10</text><text class="t" x="445.44" y="317.60" text-anchor="middle">9</text><text class="t" x="457.62" y="317.60" text-anchor="middle">11</text><text class="t" x="469.80" y="317.60" text-anchor="middle">13</text><text class="t" x="481.98" y="317.60" text-anchor="middle">15</text><text class="t" x="494.16" y="317.60" text-anchor="middle">17</text><text class="t" x="506.34" y="317.60" text-anchor="middle">19</text><text class="t" x="518.52" y="317.60" text-anchor="middle">21</text><text class="t" x="530.70" y="317.60" text-anchor="middle">23</text>
<text class="l" x="482.00" y="330.50" text-anchor="middle">(<tspan font-weight="bold">l</tspan>)</text>
<clipPath id="cp_m"><rect x="13.80" y="334.50" width="95.90" height="85.80"/></clipPath><g filter="url(#b2)"><g clip-path="url(#cp_m)"><g filter="url(#b)" shape-rendering="crispEdges"><rect x="10.80" y="331.50" width="9.04" height="11.63" fill="#127cd8"/><rect x="19.79" y="331.50" width="6.04" height="11.63" fill="#0f77db"/><rect x="25.79" y="331.50" width="36.01" height="11.63" fill="#0364e1"/><rect x="61.75" y="331.50" width="6.04" height="11.63" fill="#036ae1"/><rect x="67.74" y="331.50" width="6.04" height="11.63" fill="#127cd8"/><rect x="73.74" y="331.50" width="6.04" height="11.63" fill="#1484d4"/><rect x="79.73" y="331.50" width="6.04" height="11.63" fill="#117ada"/><rect x="85.73" y="331.50" width="6.04" height="11.63" fill="#105bdd"/><rect x="91.72" y="331.50" width="6.04" height="11.63" fill="#1b55d7"/><rect x="97.71" y="331.50" width="6.04" height="11.63" fill="#353eaf"/><rect x="103.71" y="331.50" width="9.04" height="11.63" fill="#363297"/><rect x="10.80" y="343.08" width="9.04" height="8.63" fill="#f5ec18"/><rect x="19.79" y="343.08" width="6.04" height="8.63" fill="#f6ba46"/><rect x="25.79" y="343.08" width="6.04" height="8.63" fill="#3fba99"/><rect x="31.78" y="343.08" width="18.03" height="8.63" fill="#18b1b2"/><rect x="49.76" y="343.08" width="6.04" height="8.63" fill="#27b5a8"/><rect x="55.76" y="343.08" width="6.04" height="8.63" fill="#3fba99"/><rect x="61.75" y="343.08" width="6.04" height="8.63" fill="#9bbf6f"/><rect x="67.74" y="343.08" width="6.04" height="8.63" fill="#ffc436"/><rect x="73.74" y="343.08" width="6.04" height="8.63" fill="#f5ec18"/><rect x="79.73" y="343.08" width="6.04" height="8.63" fill="#adbe68"/><rect x="85.73" y="343.08" width="6.04" height="8.63" fill="#18b1b2"/><rect x="91.72" y="343.08" width="6.04" height="8.63" fill="#06a8c4"/><rect x="97.71" y="343.08" width="6.04" height="8.63" fill="#0f77db"/><rect x="103.71" y="343.08" width="9.04" height="8.63" fill="#36369f"/><rect x="10.80" y="351.66" width="9.04" height="8.63" fill="#0267e1"/><rect x="19.79" y="351.66" width="6.04" height="8.63" fill="#105bdd"/><rect x="25.79" y="351.66" width="42.01" height="8.63" fill="#2f46bf"/><rect x="67.74" y="351.66" width="12.04" height="8.63" fill="#1b55d7"/><rect x="79.73" y="351.66" width="6.04" height="8.63" fill="#2450cf"/><rect x="85.73" y="351.66" width="6.04" height="8.63" fill="#353eaf"/><rect x="91.72" y="351.66" width="6.04" height="8.63" fill="#363aa7"/><rect x="97.71" y="351.66" width="6.04" height="8.63" fill="#363297"/><rect x="103.71" y="351.66" width="9.04" height="8.63" fill="#362e8f"/><rect x="10.80" y="360.24" width="9.04" height="8.63" fill="#0d93d2"/><rect x="19.79" y="360.24" width="6.04" height="8.63" fill="#118cd2"/><rect x="25.79" y="360.24" width="36.01" height="8.63" fill="#127cd8"/><rect x="61.75" y="360.24" width="6.04" height="8.63" fill="#137fd7"/><rect x="67.74" y="360.24" width="6.04" height="8.63" fill="#1486d3"/><rect x="73.74" y="360.24" width="6.04" height="8.63" fill="#118cd2"/><rect x="79.73" y="360.24" width="6.04" height="8.63" fill="#1481d6"/><rect x="85.73" y="360.24" width="6.04" height="8.63" fill="#0a72de"/><rect x="91.72" y="360.24" width="6.04" height="8.63" fill="#056de0"/><rect x="97.71" y="360.24" width="6.04" height="8.63" fill="#2450cf"/><rect x="103.71" y="360.24" width="9.04" height="8.63" fill="#36369f"/><rect x="10.80" y="368.82" width="9.04" height="8.63" fill="#0cadbb"/><rect x="19.79" y="368.82" width="6.04" height="8.63" fill="#079cd0"/><rect x="25.79" y="368.82" width="6.04" height="8.63" fill="#1481d6"/><rect x="31.78" y="368.82" width="30.02" height="8.63" fill="#127cd8"/><rect x="61.75" y="368.82" width="6.04" height="8.63" fill="#1481d6"/><rect x="67.74" y="368.82" width="6.04" height="8.63" fill="#0899d1"/><rect x="73.74" y="368.82" width="6.04" height="8.63" fill="#1db3af"/><rect x="79.73" y="368.82" width="6.04" height="8.63" fill="#0d93d2"/><rect x="85.73" y="368.82" width="6.04" height="8.63" fill="#0f77db"/><rect x="91.72" y="368.82" width="6.04" height="8.63" fill="#0a72de"/><rect x="97.71" y="368.82" width="6.04" height="8.63" fill="#2450cf"/><rect x="103.71" y="368.82" width="9.04" height="8.63" fill="#36369f"/><rect x="10.80" y="377.40" width="9.04" height="8.63" fill="#06a3cb"/><rect x="19.79" y="377.40" width="6.04" height="8.63" fill="#0899d1"/><rect x="25.79" y="377.40" width="6.04" height="8.63" fill="#0d75dc"/><rect x="31.78" y="377.40" width="30.02" height="8.63" fill="#0770df"/><rect x="61.75" y="377.40" width="6.04" height="8.63" fill="#0f77db"/><rect x="67.74" y="377.40" width="6.04" height="8.63" fill="#0d93d2"/><rect x="73.74" y="377.40" width="6.04" height="8.63" fill="#07aac1"/><rect x="79.73" y="377.40" width="6.04" height="8.63" fill="#118cd2"/><rect x="85.73" y="377.40" width="6.04" height="8.63" fill="#0a72de"/><rect x="91.72" y="377.40" width="6.04" height="8.63" fill="#056de0"/><rect x="97.71" y="377.40" width="6.04" height="8.63" fill="#2f46bf"/><rect x="103.71" y="377.40" width="9.04" height="8.63" fill="#363297"/><rect x="10.80" y="385.98" width="9.04" height="8.63" fill="#07aac1"/><rect x="19.79" y="385.98" width="6.04" height="8.63" fill="#06a3cb"/><rect x="25.79" y="385.98" width="6.04" height="8.63" fill="#1484d4"/><rect x="31.78" y="385.98" width="30.02" height="8.63" fill="#127cd8"/><rect x="61.75" y="385.98" width="6.04" height="8.63" fill="#1486d3"/><rect x="67.74" y="385.98" width="6.04" height="8.63" fill="#06a3cb"/><rect x="73.74" y="385.98" width="6.04" height="8.63" fill="#3fba99"/><rect x="79.73" y="385.98" width="6.04" height="8.63" fill="#069ece"/><rect x="85.73" y="385.98" width="6.04" height="8.63" fill="#127cd8"/><rect x="91.72" y="385.98" width="6.04" height="8.63" fill="#0f77db"/><rect x="97.71" y="385.98" width="6.04" height="8.63" fill="#2450cf"/><rect x="103.71" y="385.98" width="9.04" height="8.63" fill="#363297"/><rect x="10.80" y="394.56" width="9.04" height="8.63" fill="#036ae1"/><rect x="19.79" y="394.56" width="6.04" height="8.63" fill="#0364e1"/><rect x="25.79" y="394.56" width="6.04" height="8.63" fill="#2450cf"/><rect x="31.78" y="394.56" width="30.02" height="8.63" fill="#2b4bc7"/><rect x="61.75" y="394.56" width="6.04" height="8.63" fill="#2450cf"/><rect x="67.74" y="394.56" width="6.04" height="8.63" fill="#105bdd"/><rect x="73.74" y="394.56" width="6.04" height="8.63" fill="#0860df"/><rect x="79.73" y="394.56" width="6.04" height="8.63" fill="#2450cf"/><rect x="85.73" y="394.56" width="6.04" height="8.63" fill="#3342b7"/><rect x="91.72" y="394.56" width="6.04" height="8.63" fill="#363aa7"/><rect x="97.71" y="394.56" width="6.04" height="8.63" fill="#363297"/><rect x="103.71" y="394.56" width="9.04" height="8.63" fill="#362e8f"/><rect x="10.80" y="403.14" width="9.04" height="8.63" fill="#0860df"/><rect x="19.79" y="403.14" width="6.04" height="8.63" fill="#2450cf"/><rect x="25.79" y="403.14" width="36.01" height="8.63" fill="#363aa7"/><rect x="61.75" y="403.14" width="6.04" height="8.63" fill="#3342b7"/><rect x="67.74" y="403.14" width="6.04" height="8.63" fill="#1b55d7"/><rect x="73.74" y="403.14" width="6.04" height="8.63" fill="#0364e1"/><rect x="79.73" y="403.14" width="6.04" height="8.63" fill="#1b55d7"/><rect x="85.73" y="403.14" width="6.04" height="8.63" fill="#363aa7"/><rect x="91.72" y="403.14" width="6.04" height="8.63" fill="#36369f"/><rect x="97.71" y="403.14" width="6.04" height="8.63" fill="#363297"/><rect x="103.71" y="403.14" width="9.04" height="8.63" fill="#362e8f"/><rect x="10.80" y="411.72" width="9.04" height="11.63" fill="#127cd8"/><rect x="19.79" y="411.72" width="6.04" height="11.63" fill="#0a72de"/><rect x="25.79" y="411.72" width="36.01" height="11.63" fill="#0860df"/><rect x="61.75" y="411.72" width="6.04" height="11.63" fill="#0267e1"/><rect x="67.74" y="411.72" width="6.04" height="11.63" fill="#0770df"/><rect x="73.74" y="411.72" width="6.04" height="11.63" fill="#0f77db"/><rect x="79.73" y="411.72" width="6.04" height="11.63" fill="#036ae1"/><rect x="85.73" y="411.72" width="6.04" height="11.63" fill="#2b4bc7"/><rect x="91.72" y="411.72" width="6.04" height="11.63" fill="#3342b7"/><rect x="97.71" y="411.72" width="6.04" height="11.63" fill="#36369f"/><rect x="103.71" y="411.72" width="9.04" height="11.63" fill="#363297"/></g></g></g>
<text class="t" x="12.30" y="340.99" text-anchor="end">x1</text><text class="t" x="12.30" y="349.57" text-anchor="end">x2</text><text class="t" x="12.30" y="358.15" text-anchor="end">x3</text><text class="t" x="12.30" y="366.73" text-anchor="end">x4</text><text class="t" x="12.30" y="375.31" text-anchor="end">x5</text><text class="t" x="12.30" y="383.89" text-anchor="end">x6</text><text class="t" x="12.30" y="392.47" text-anchor="end">x7</text><text class="t" x="12.30" y="401.05" text-anchor="end">x8</text><text class="t" x="12.30" y="409.63" text-anchor="end">x9</text><text class="t" x="12.30" y="418.21" text-anchor="end">x10</text><text class="t" x="22.79" y="425.40" text-anchor="middle">9</text><text class="t" x="34.78" y="425.40" text-anchor="middle">11</text><text class="t" x="46.77" y="425.40" text-anchor="middle">13</text><text class="t" x="58.75" y="425.40" text-anchor="middle">15</text><text class="t" x="70.74" y="425.40" text-anchor="middle">17</text><text class="t" x="82.73" y="425.40" text-anchor="middle">19</text><text class="t" x="94.72" y="425.40" text-anchor="middle">21</text><text class="t" x="106.70" y="425.40" text-anchor="middle">23</text>
<text class="l" x="59.40" y="438.30" text-anchor="middle">(<tspan font-weight="bold">m</tspan>)</text>
<clipPath id="cp_n"><rect x="153.30" y="335.90" width="95.70" height="83.80"/></clipPath><g filter="url(#b2)"><g clip-path="url(#cp_n)"><g filter="url(#b)" shape-rendering="crispEdges"><rect x="150.30" y="332.90" width="9.03" height="11.43" fill="#0f77db"/><rect x="159.28" y="332.90" width="6.03" height="11.43" fill="#0364e1"/><rect x="165.26" y="332.90" width="35.94" height="11.43" fill="#105bdd"/><rect x="201.15" y="332.90" width="6.03" height="11.43" fill="#0860df"/><rect x="207.13" y="332.90" width="6.03" height="11.43" fill="#0a72de"/><rect x="213.11" y="332.90" width="6.03" height="11.43" fill="#0d75dc"/><rect x="219.09" y="332.90" width="6.03" height="11.43" fill="#0267e1"/><rect x="225.07" y="332.90" width="6.03" height="11.43" fill="#1b55d7"/><rect x="231.06" y="332.90" width="6.03" height="11.43" fill="#2b4bc7"/><rect x="237.04" y="332.90" width="6.03" height="11.43" fill="#363aa7"/><rect x="243.02" y="332.90" width="9.03" height="11.43" fill="#363297"/><rect x="150.30" y="344.28" width="9.03" height="8.43" fill="#f7f611"/><rect x="159.28" y="344.28" width="6.03" height="8.43" fill="#7abf7c"/><rect x="165.26" y="344.28" width="6.03" height="8.43" fill="#18b1b2"/><rect x="171.24" y="344.28" width="17.99" height="8.43" fill="#14b0b5"/><rect x="189.19" y="344.28" width="6.03" height="8.43" fill="#18b1b2"/><rect x="195.17" y="344.28" width="6.03" height="8.43" fill="#33b8a1"/><rect x="201.15" y="344.28" width="6.03" height="8.43" fill="#6bbf83"/><rect x="207.13" y="344.28" width="6.03" height="8.43" fill="#fec13a"/><rect x="213.11" y="344.28" width="6.03" height="8.43" fill="#f6ba46"/><rect x="219.09" y="344.28" width="6.03" height="8.43" fill="#3fba99"/><rect x="225.07" y="344.28" width="6.03" height="8.43" fill="#09acbe"/><rect x="231.06" y="344.28" width="6.03" height="8.43" fill="#06a6c6"/><rect x="237.04" y="344.28" width="6.03" height="8.43" fill="#0d75dc"/><rect x="243.02" y="344.28" width="9.03" height="8.43" fill="#363297"/><rect x="150.30" y="352.66" width="9.03" height="8.43" fill="#0267e1"/><rect x="159.28" y="352.66" width="6.03" height="8.43" fill="#2f46bf"/><rect x="165.26" y="352.66" width="35.94" height="8.43" fill="#363aa7"/><rect x="201.15" y="352.66" width="6.03" height="8.43" fill="#3342b7"/><rect x="207.13" y="352.66" width="12.01" height="8.43" fill="#0860df"/><rect x="219.09" y="352.66" width="6.03" height="8.43" fill="#2450cf"/><rect x="225.07" y="352.66" width="6.03" height="8.43" fill="#353eaf"/><rect x="231.06" y="352.66" width="6.03" height="8.43" fill="#363aa7"/><rect x="237.04" y="352.66" width="6.03" height="8.43" fill="#363297"/><rect x="243.02" y="352.66" width="9.03" height="8.43" fill="#362e8f"/><rect x="150.30" y="361.04" width="9.03" height="8.43" fill="#079cd0"/><rect x="159.28" y="361.04" width="6.03" height="8.43" fill="#127cd8"/><rect x="165.26" y="361.04" width="35.94" height="8.43" fill="#0770df"/><rect x="201.15" y="361.04" width="6.03" height="8.43" fill="#0d75dc"/><rect x="207.13" y="361.04" width="12.01" height="8.43" fill="#1389d3"/><rect x="219.09" y="361.04" width="6.03" height="8.43" fill="#0f77db"/><rect x="225.07" y="361.04" width="6.03" height="8.43" fill="#0364e1"/><rect x="231.06" y="361.04" width="6.03" height="8.43" fill="#0860df"/><rect x="237.04" y="361.04" width="6.03" height="8.43" fill="#3342b7"/><rect x="243.02" y="361.04" width="9.03" height="8.43" fill="#363297"/><rect x="150.30" y="369.42" width="9.03" height="8.43" fill="#14b0b5"/><rect x="159.28" y="369.42" width="6.03" height="8.43" fill="#118cd2"/><rect x="165.26" y="369.42" width="35.94" height="8.43" fill="#0a72de"/><rect x="201.15" y="369.42" width="6.03" height="8.43" fill="#127cd8"/><rect x="207.13" y="369.42" width="12.01" height="8.43" fill="#06a3cb"/><rect x="219.09" y="369.42" width="6.03" height="8.43" fill="#127cd8"/><rect x="225.07" y="369.42" width="6.03" height="8.43" fill="#0364e1"/><rect x="231.06" y="369.42" width="6.03" height="8.43" fill="#0860df"/><rect x="237.04" y="369.42" width="6.03" height="8.43" fill="#3342b7"/><rect x="243.02" y="369.42" width="9.03" height="8.43" fill="#363297"/><rect x="150.30" y="377.80" width="9.03" height="8.43" fill="#07aac1"/><rect x="159.28" y="377.80" width="6.03" height="8.43" fill="#1484d4"/><rect x="165.26" y="377.80" width="35.94" height="8.43" fill="#056de0"/><rect x="201.15" y="377.80" width="6.03" height="8.43" fill="#0f77db"/><rect x="207.13" y="377.80" width="12.01" height="8.43" fill="#0d93d2"/><rect x="219.09" y="377.80" width="6.03" height="8.43" fill="#0f77db"/><rect x="225.07" y="377.80" width="12.01" height="8.43" fill="#0860df"/><rect x="237.04" y="377.80" width="6.03" height="8.43" fill="#3342b7"/><rect x="243.02" y="377.80" width="9.03" height="8.43" fill="#363297"/><rect x="150.30" y="386.18" width="9.03" height="8.43" fill="#1db3af"/><rect x="159.28" y="386.18" width="6.03" height="8.43" fill="#0d93d2"/><rect x="165.26" y="386.18" width="29.96" height="8.43" fill="#0a72de"/><rect x="195.17" y="386.18" width="6.03" height="8.43" fill="#0d75dc"/><rect x="201.15" y="386.18" width="6.03" height="8.43" fill="#137fd7"/><rect x="207.13" y="386.18" width="12.01" height="8.43" fill="#06a6c6"/><rect x="219.09" y="386.18" width="6.03" height="8.43" fill="#137fd7"/><rect x="225.07" y="386.18" width="12.01" height="8.43" fill="#036ae1"/><rect x="237.04" y="386.18" width="6.03" height="8.43" fill="#3342b7"/><rect x="243.02" y="386.18" width="9.03" height="8.43" fill="#363297"/><rect x="150.30" y="394.56" width="9.03" height="8.43" fill="#0267e1"/><rect x="159.28" y="394.56" width="6.03" height="8.43" fill="#2b4bc7"/><rect x="165.26" y="394.56" width="35.94" height="8.43" fill="#353eaf"/><rect x="201.15" y="394.56" width="6.03" height="8.43" fill="#3342b7"/><rect x="207.13" y="394.56" width="12.01" height="8.43" fill="#105bdd"/><rect x="219.09" y="394.56" width="6.03" height="8.43" fill="#2b4bc7"/><rect x="225.07" y="394.56" width="6.03" height="8.43" fill="#363aa7"/><rect x="231.06" y="394.56" width="6.03" height="8.43" fill="#36369f"/><rect x="237.04" y="394.56" width="6.03" height="8.43" fill="#363297"/><rect x="243.02" y="394.56" width="9.03" height="8.43" fill="#362e8f"/><rect x="150.30" y="402.94" width="9.03" height="8.43" fill="#0860df"/><rect x="159.28" y="402.94" width="6.03" height="8.43" fill="#3342b7"/><rect x="165.26" y="402.94" width="35.94" height="8.43" fill="#36369f"/><rect x="201.15" y="402.94" width="6.03" height="8.43" fill="#353eaf"/><rect x="207.13" y="402.94" width="12.01" height="8.43" fill="#1b55d7"/><rect x="219.09" y="402.94" width="6.03" height="8.43" fill="#2b4bc7"/><rect x="225.07" y="402.94" width="6.03" height="8.43" fill="#36369f"/><rect x="231.06" y="402.94" width="12.01" height="8.43" fill="#363297"/><rect x="243.02" y="402.94" width="9.03" height="8.43" fill="#362e8f"/><rect x="150.30" y="411.32" width="9.03" height="11.43" fill="#127cd8"/><rect x="159.28" y="411.32" width="6.03" height="11.43" fill="#0267e1"/><rect x="165.26" y="411.32" width="35.94" height="11.43" fill="#1b55d7"/><rect x="201.15" y="411.32" width="6.03" height="11.43" fill="#0364e1"/><rect x="207.13" y="411.32" width="6.03" height="11.43" fill="#0a72de"/><rect x="213.11" y="411.32" width="6.03" height="11.43" fill="#127cd8"/><rect x="219.09" y="411.32" width="6.03" height="11.43" fill="#0a72de"/><rect x="225.07" y="411.32" width="6.03" height="11.43" fill="#2b4bc7"/><rect x="231.06" y="411.32" width="6.03" height="11.43" fill="#3342b7"/><rect x="237.04" y="411.32" width="6.03" height="11.43" fill="#36369f"/><rect x="243.02" y="411.32" width="9.03" height="11.43" fill="#363297"/></g></g></g>
<text class="t" x="151.80" y="342.29" text-anchor="end">x1</text><text class="t" x="151.80" y="350.67" text-anchor="end">x2</text><text class="t" x="151.80" y="359.05" text-anchor="end">x3</text><text class="t" x="151.80" y="367.43" text-anchor="end">x4</text><text class="t" x="151.80" y="375.81" text-anchor="end">x5</text><text class="t" x="151.80" y="384.19" text-anchor="end">x6</text><text class="t" x="151.80" y="392.57" text-anchor="end">x7</text><text class="t" x="151.80" y="400.95" text-anchor="end">x8</text><text class="t" x="151.80" y="409.33" text-anchor="end">x9</text><text class="t" x="151.80" y="417.71" text-anchor="end">x10</text><text class="t" x="162.27" y="424.80" text-anchor="middle">9</text><text class="t" x="174.23" y="424.80" text-anchor="middle">11</text><text class="t" x="186.20" y="424.80" text-anchor="middle">13</text><text class="t" x="198.16" y="424.80" text-anchor="middle">15</text><text class="t" x="210.12" y="424.80" text-anchor="middle">17</text><text class="t" x="222.08" y="424.80" text-anchor="middle">19</text><text class="t" x="234.05" y="424.80" text-anchor="middle">21</text><text class="t" x="246.01" y="424.80" text-anchor="middle">23</text>
<text class="l" x="198.40" y="438.30" text-anchor="middle">(<tspan font-weight="bold">n</tspan>)</text>
<clipPath id="cp_o"><rect x="292.50" y="335.50" width="100.40" height="84.30"/></clipPath><g filter="url(#b2)"><g clip-path="url(#cp_o)"><g filter="url(#b)" shape-rendering="crispEdges"><rect x="289.50" y="332.50" width="15.60" height="11.48" fill="#127cd8"/><rect x="305.05" y="332.50" width="56.52" height="11.48" fill="#117ada"/><rect x="361.52" y="332.50" width="6.32" height="11.48" fill="#0f77db"/><rect x="367.80" y="332.50" width="6.33" height="11.48" fill="#056de0"/><rect x="374.07" y="332.50" width="6.32" height="11.48" fill="#0364e1"/><rect x="380.35" y="332.50" width="6.33" height="11.48" fill="#2f46bf"/><rect x="386.62" y="332.50" width="9.32" height="11.48" fill="#363297"/><rect x="289.50" y="343.93" width="9.32" height="8.48" fill="#fabc42"/><rect x="298.77" y="343.93" width="6.33" height="8.48" fill="#f6dc23"/><rect x="305.05" y="343.93" width="6.32" height="8.48" fill="#fad12b"/><rect x="311.32" y="343.93" width="6.33" height="8.48" fill="#fec13a"/><rect x="317.60" y="343.93" width="18.87" height="8.48" fill="#fdbe3e"/><rect x="336.43" y="343.93" width="6.32" height="8.48" fill="#ffc436"/><rect x="342.70" y="343.93" width="6.32" height="8.48" fill="#fdcb30"/><rect x="348.97" y="343.93" width="6.33" height="8.48" fill="#f5ec18"/><rect x="355.25" y="343.93" width="6.32" height="8.48" fill="#f9d528"/><rect x="361.52" y="343.93" width="6.32" height="8.48" fill="#ecb94c"/><rect x="367.80" y="343.93" width="6.33" height="8.48" fill="#88bf77"/><rect x="374.07" y="343.93" width="6.32" height="8.48" fill="#18b1b2"/><rect x="380.35" y="343.93" width="6.33" height="8.48" fill="#0f77db"/><rect x="386.62" y="343.93" width="9.32" height="8.48" fill="#36369f"/><rect x="289.50" y="352.36" width="15.60" height="8.48" fill="#0267e1"/><rect x="305.05" y="352.36" width="56.52" height="8.48" fill="#0364e1"/><rect x="361.52" y="352.36" width="6.32" height="8.48" fill="#0860df"/><rect x="367.80" y="352.36" width="6.33" height="8.48" fill="#1b55d7"/><rect x="374.07" y="352.36" width="6.32" height="8.48" fill="#3342b7"/><rect x="380.35" y="352.36" width="6.33" height="8.48" fill="#363297"/><rect x="386.62" y="352.36" width="9.32" height="8.48" fill="#362e8f"/><rect x="289.50" y="360.79" width="9.32" height="8.48" fill="#0d93d2"/><rect x="298.77" y="360.79" width="50.25" height="8.48" fill="#079cd0"/><rect x="348.97" y="360.79" width="12.60" height="8.48" fill="#069ece"/><rect x="361.52" y="360.79" width="6.32" height="8.48" fill="#0899d1"/><rect x="367.80" y="360.79" width="6.33" height="8.48" fill="#0d93d2"/><rect x="374.07" y="360.79" width="6.32" height="8.48" fill="#1481d6"/><rect x="380.35" y="360.79" width="6.33" height="8.48" fill="#2450cf"/><rect x="386.62" y="360.79" width="9.32" height="8.48" fill="#363297"/><rect x="289.50" y="369.22" width="9.32" height="8.48" fill="#079cd0"/><rect x="298.77" y="369.22" width="43.98" height="8.48" fill="#06a5c9"/><rect x="342.70" y="369.22" width="6.32" height="8.48" fill="#06a6c6"/><rect x="348.97" y="369.22" width="6.33" height="8.48" fill="#33b8a1"/><rect x="355.25" y="369.22" width="6.32" height="8.48" fill="#0cadbb"/><rect x="361.52" y="369.22" width="6.32" height="8.48" fill="#06a0cd"/><rect x="367.80" y="369.22" width="6.33" height="8.48" fill="#118cd2"/><rect x="374.07" y="369.22" width="6.32" height="8.48" fill="#1481d6"/><rect x="380.35" y="369.22" width="6.33" height="8.48" fill="#2450cf"/><rect x="386.62" y="369.22" width="9.32" height="8.48" fill="#363297"/><rect x="289.50" y="377.65" width="9.32" height="8.48" fill="#1389d3"/><rect x="298.77" y="377.65" width="62.80" height="8.48" fill="#118cd2"/><rect x="361.52" y="377.65" width="6.32" height="8.48" fill="#1486d3"/><rect x="367.80" y="377.65" width="6.33" height="8.48" fill="#117ada"/><rect x="374.07" y="377.65" width="6.32" height="8.48" fill="#0a72de"/><rect x="380.35" y="377.65" width="6.33" height="8.48" fill="#2f46bf"/><rect x="386.62" y="377.65" width="9.32" height="8.48" fill="#363297"/><rect x="289.50" y="386.08" width="9.32" height="8.48" fill="#06a0cd"/><rect x="298.77" y="386.08" width="12.60" height="8.48" fill="#07aac1"/><rect x="311.32" y="386.08" width="6.33" height="8.48" fill="#06a0cd"/><rect x="317.60" y="386.08" width="31.42" height="8.48" fill="#069ece"/><rect x="348.97" y="386.08" width="12.60" height="8.48" fill="#06a8c4"/><rect x="361.52" y="386.08" width="6.32" height="8.48" fill="#079cd0"/><rect x="367.80" y="386.08" width="6.33" height="8.48" fill="#1484d4"/><rect x="374.07" y="386.08" width="6.32" height="8.48" fill="#127cd8"/><rect x="380.35" y="386.08" width="6.33" height="8.48" fill="#2450cf"/><rect x="386.62" y="386.08" width="9.32" height="8.48" fill="#363297"/><rect x="289.50" y="394.51" width="72.07" height="8.48" fill="#0364e1"/><rect x="361.52" y="394.51" width="12.60" height="8.48" fill="#0860df"/><rect x="374.07" y="394.51" width="6.32" height="8.48" fill="#2b4bc7"/><rect x="380.35" y="394.51" width="6.33" height="8.48" fill="#36369f"/><rect x="386.62" y="394.51" width="9.32" height="8.48" fill="#362e8f"/><rect x="289.50" y="402.94" width="21.87" height="8.48" fill="#1b55d7"/><rect x="311.32" y="402.94" width="6.33" height="8.48" fill="#2450cf"/><rect x="317.60" y="402.94" width="12.60" height="8.48" fill="#2b4bc7"/><rect x="330.15" y="402.94" width="18.87" height="8.48" fill="#2f46bf"/><rect x="348.97" y="402.94" width="6.33" height="8.48" fill="#2b4bc7"/><rect x="355.25" y="402.94" width="12.60" height="8.48" fill="#2450cf"/><rect x="367.80" y="402.94" width="6.33" height="8.48" fill="#3342b7"/><rect x="374.07" y="402.94" width="6.32" height="8.48" fill="#353eaf"/><rect x="380.35" y="402.94" width="6.33" height="8.48" fill="#363297"/><rect x="386.62" y="402.94" width="9.32" height="8.48" fill="#362e8f"/><rect x="289.50" y="411.37" width="15.60" height="11.48" fill="#1481d6"/><rect x="305.05" y="411.37" width="6.32" height="11.48" fill="#127cd8"/><rect x="311.32" y="411.37" width="12.60" height="11.48" fill="#0f77db"/><rect x="323.88" y="411.37" width="6.32" height="11.48" fill="#0d75dc"/><rect x="330.15" y="411.37" width="31.43" height="11.48" fill="#0a72de"/><rect x="361.52" y="411.37" width="6.32" height="11.48" fill="#056de0"/><rect x="367.80" y="411.37" width="6.33" height="11.48" fill="#105bdd"/><rect x="374.07" y="411.37" width="6.32" height="11.48" fill="#2450cf"/><rect x="380.35" y="411.37" width="6.33" height="11.48" fill="#353eaf"/><rect x="386.62" y="411.37" width="9.32" height="11.48" fill="#363297"/></g></g></g>
<text class="t" x="291.00" y="341.91" text-anchor="end">x1</text><text class="t" x="291.00" y="350.34" text-anchor="end">x2</text><text class="t" x="291.00" y="358.77" text-anchor="end">x3</text><text class="t" x="291.00" y="367.20" text-anchor="end">x4</text><text class="t" x="291.00" y="375.63" text-anchor="end">x5</text><text class="t" x="291.00" y="384.06" text-anchor="end">x6</text><text class="t" x="291.00" y="392.50" text-anchor="end">x7</text><text class="t" x="291.00" y="400.93" text-anchor="end">x8</text><text class="t" x="291.00" y="409.36" text-anchor="end">x9</text><text class="t" x="291.00" y="417.79" text-anchor="end">x10</text><text class="t" x="301.91" y="424.90" text-anchor="middle">9</text><text class="t" x="314.46" y="424.90" text-anchor="middle">11</text><text class="t" x="327.01" y="424.90" text-anchor="middle">13</text><text class="t" x="339.56" y="424.90" text-anchor="middle">15</text><text class="t" x="352.11" y="424.90" text-anchor="middle">17</text><text class="t" x="364.66" y="424.90" text-anchor="middle">19</text><text class="t" x="377.21" y="424.90" text-anchor="middle">21</text><text class="t" x="389.76" y="424.90" text-anchor="middle">23</text>
<text class="l" x="340.50" y="438.30" text-anchor="middle">(<tspan font-weight="bold">o</tspan>)</text>
<clipPath id="cp_p"><rect x="436.85" y="335.20" width="96.65" height="85.80"/></clipPath><g filter="url(#b2)"><g clip-path="url(#cp_p)"><g filter="url(#b)" shape-rendering="crispEdges"><rect x="433.85" y="332.20" width="9.09" height="11.63" fill="#1481d6"/><rect x="442.89" y="332.20" width="6.09" height="11.63" fill="#127cd8"/><rect x="448.93" y="332.20" width="54.42" height="11.63" fill="#117ada"/><rect x="503.30" y="332.20" width="6.09" height="11.63" fill="#0f77db"/><rect x="509.34" y="332.20" width="6.09" height="11.63" fill="#0d75dc"/><rect x="515.38" y="332.20" width="6.09" height="11.63" fill="#036ae1"/><rect x="521.42" y="332.20" width="6.09" height="11.63" fill="#36369f"/><rect x="527.46" y="332.20" width="9.09" height="11.63" fill="#363297"/><rect x="433.85" y="343.78" width="9.09" height="8.63" fill="#f5ec18"/><rect x="442.89" y="343.78" width="6.09" height="8.63" fill="#f7d826"/><rect x="448.93" y="343.78" width="6.09" height="8.63" fill="#ffc436"/><rect x="454.97" y="343.78" width="24.21" height="8.63" fill="#fdbe3e"/><rect x="479.13" y="343.78" width="6.09" height="8.63" fill="#ffc436"/><rect x="485.18" y="343.78" width="6.09" height="8.63" fill="#fad12b"/><rect x="491.22" y="343.78" width="6.09" height="8.63" fill="#f5ec18"/><rect x="497.26" y="343.78" width="6.09" height="8.63" fill="#fdcb30"/><rect x="503.30" y="343.78" width="6.09" height="8.63" fill="#cebb5b"/><rect x="509.34" y="343.78" width="6.09" height="8.63" fill="#6bbf83"/><rect x="515.38" y="343.78" width="6.09" height="8.63" fill="#0cadbb"/><rect x="521.42" y="343.78" width="6.09" height="8.63" fill="#0f77db"/><rect x="527.46" y="343.78" width="9.09" height="8.63" fill="#36369f"/><rect x="433.85" y="352.36" width="9.09" height="8.63" fill="#036ae1"/><rect x="442.89" y="352.36" width="6.09" height="8.63" fill="#0364e1"/><rect x="448.93" y="352.36" width="54.42" height="8.63" fill="#0860df"/><rect x="503.30" y="352.36" width="6.09" height="8.63" fill="#1b55d7"/><rect x="509.34" y="352.36" width="6.09" height="8.63" fill="#2f46bf"/><rect x="515.38" y="352.36" width="6.09" height="8.63" fill="#353eaf"/><rect x="521.42" y="352.36" width="6.09" height="8.63" fill="#363297"/><rect x="527.46" y="352.36" width="9.09" height="8.63" fill="#362e8f"/><rect x="433.85" y="360.94" width="69.50" height="8.63" fill="#06a5c9"/><rect x="503.30" y="360.94" width="6.09" height="8.63" fill="#069ece"/><rect x="509.34" y="360.94" width="6.09" height="8.63" fill="#0d93d2"/><rect x="515.38" y="360.94" width="6.09" height="8.63" fill="#127cd8"/><rect x="521.42" y="360.94" width="6.09" height="8.63" fill="#2f46bf"/><rect x="527.46" y="360.94" width="9.09" height="8.63" fill="#363297"/><rect x="433.85" y="369.52" width="9.09" height="8.63" fill="#14b0b5"/><rect x="442.89" y="369.52" width="6.09" height="8.63" fill="#0cadbb"/><rect x="448.93" y="369.52" width="30.25" height="8.63" fill="#09acbe"/><rect x="479.13" y="369.52" width="6.09" height="8.63" fill="#07aac1"/><rect x="485.18" y="369.52" width="12.13" height="8.63" fill="#1db3af"/><rect x="497.26" y="369.52" width="6.09" height="8.63" fill="#07aac1"/><rect x="503.30" y="369.52" width="6.09" height="8.63" fill="#069ece"/><rect x="509.34" y="369.52" width="6.09" height="8.63" fill="#118cd2"/><rect x="515.38" y="369.52" width="6.09" height="8.63" fill="#0f77db"/><rect x="521.42" y="369.52" width="6.09" height="8.63" fill="#2f46bf"/><rect x="527.46" y="369.52" width="9.09" height="8.63" fill="#363297"/><rect x="433.85" y="378.10" width="9.09" height="8.63" fill="#069ece"/><rect x="442.89" y="378.10" width="6.09" height="8.63" fill="#0899d1"/><rect x="448.93" y="378.10" width="6.09" height="8.63" fill="#118cd2"/><rect x="454.97" y="378.10" width="48.37" height="8.63" fill="#1389d3"/><rect x="503.30" y="378.10" width="6.09" height="8.63" fill="#1484d4"/><rect x="509.34" y="378.10" width="6.09" height="8.63" fill="#0a72de"/><rect x="515.38" y="378.10" width="6.09" height="8.63" fill="#0267e1"/><rect x="521.42" y="378.10" width="6.09" height="8.63" fill="#353eaf"/><rect x="527.46" y="378.10" width="9.09" height="8.63" fill="#363297"/><rect x="433.85" y="386.68" width="9.09" height="8.63" fill="#14b0b5"/><rect x="442.89" y="386.68" width="6.09" height="8.63" fill="#0cadbb"/><rect x="448.93" y="386.68" width="6.09" height="8.63" fill="#07aac1"/><rect x="454.97" y="386.68" width="6.09" height="8.63" fill="#06a5c9"/><rect x="461.01" y="386.68" width="24.21" height="8.63" fill="#06a3cb"/><rect x="485.18" y="386.68" width="12.13" height="8.63" fill="#10afb9"/><rect x="497.26" y="386.68" width="6.09" height="8.63" fill="#06a3cb"/><rect x="503.30" y="386.68" width="6.09" height="8.63" fill="#0899d1"/><rect x="509.34" y="386.68" width="6.09" height="8.63" fill="#127cd8"/><rect x="515.38" y="386.68" width="6.09" height="8.63" fill="#0770df"/><rect x="521.42" y="386.68" width="6.09" height="8.63" fill="#3342b7"/><rect x="527.46" y="386.68" width="9.09" height="8.63" fill="#363297"/><rect x="433.85" y="395.26" width="9.09" height="8.63" fill="#0364e1"/><rect x="442.89" y="395.26" width="54.42" height="8.63" fill="#0860df"/><rect x="497.26" y="395.26" width="6.09" height="8.63" fill="#105bdd"/><rect x="503.30" y="395.26" width="6.09" height="8.63" fill="#1b55d7"/><rect x="509.34" y="395.26" width="6.09" height="8.63" fill="#0860df"/><rect x="515.38" y="395.26" width="6.09" height="8.63" fill="#2b4bc7"/><rect x="521.42" y="395.26" width="6.09" height="8.63" fill="#36369f"/><rect x="527.46" y="395.26" width="9.09" height="8.63" fill="#362e8f"/><rect x="433.85" y="403.84" width="9.09" height="8.63" fill="#0860df"/><rect x="442.89" y="403.84" width="6.09" height="8.63" fill="#1b55d7"/><rect x="448.93" y="403.84" width="6.09" height="8.63" fill="#2b4bc7"/><rect x="454.97" y="403.84" width="30.25" height="8.63" fill="#2f46bf"/><rect x="485.18" y="403.84" width="6.09" height="8.63" fill="#2b4bc7"/><rect x="491.22" y="403.84" width="12.13" height="8.63" fill="#2450cf"/><rect x="503.30" y="403.84" width="6.09" height="8.63" fill="#2f46bf"/><rect x="509.34" y="403.84" width="6.09" height="8.63" fill="#353eaf"/><rect x="515.38" y="403.84" width="6.09" height="8.63" fill="#363aa7"/><rect x="521.42" y="403.84" width="6.09" height="8.63" fill="#363297"/><rect x="527.46" y="403.84" width="9.09" height="8.63" fill="#362e8f"/><rect x="433.85" y="412.42" width="9.09" height="11.63" fill="#1481d6"/><rect x="442.89" y="412.42" width="6.09" height="11.63" fill="#127cd8"/><rect x="448.93" y="412.42" width="12.13" height="11.63" fill="#0f77db"/><rect x="461.01" y="412.42" width="6.09" height="11.63" fill="#0d75dc"/><rect x="467.05" y="412.42" width="30.25" height="11.63" fill="#0a72de"/><rect x="497.26" y="412.42" width="6.09" height="11.63" fill="#0770df"/><rect x="503.30" y="412.42" width="6.09" height="11.63" fill="#0267e1"/><rect x="509.34" y="412.42" width="6.09" height="11.63" fill="#1b55d7"/><rect x="515.38" y="412.42" width="6.09" height="11.63" fill="#2b4bc7"/><rect x="521.42" y="412.42" width="6.09" height="11.63" fill="#36369f"/><rect x="527.46" y="412.42" width="9.09" height="11.63" fill="#363297"/></g></g></g>
<text class="t" x="435.35" y="341.69" text-anchor="end">x1</text><text class="t" x="435.35" y="350.27" text-anchor="end">x2</text><text class="t" x="435.35" y="358.85" text-anchor="end">x3</text><text class="t" x="435.35" y="367.43" text-anchor="end">x4</text><text class="t" x="435.35" y="376.01" text-anchor="end">x5</text><text class="t" x="435.35" y="384.59" text-anchor="end">x6</text><text class="t" x="435.35" y="393.17" text-anchor="end">x7</text><text class="t" x="435.35" y="401.75" text-anchor="end">x8</text><text class="t" x="435.35" y="410.33" text-anchor="end">x9</text><text class="t" x="435.35" y="418.91" text-anchor="end">x10</text><text class="t" x="445.91" y="426.10" text-anchor="middle">9</text><text class="t" x="457.99" y="426.10" text-anchor="middle">11</text><text class="t" x="470.07" y="426.10" text-anchor="middle">13</text><text class="t" x="482.15" y="426.10" text-anchor="middle">15</text><text class="t" x="494.24" y="426.10" text-anchor="middle">17</text><text class="t" x="506.32" y="426.10" text-anchor="middle">19</text><text class="t" x="518.40" y="426.10" text-anchor="middle">21</text><text class="t" x="530.48" y="426.10" text-anchor="middle">23</text>
<text class="l" x="482.00" y="438.30" text-anchor="middle">(<tspan font-weight="bold">p</tspan>)</text>
<rect x="197.0" y="445.1" width="145.6" height="9.5" fill="url(#cb)" stroke="#777" stroke-width="0.45"/>
<text class="c" x="193.6" y="452.7" text-anchor="end">low</text>
<text class="c" x="345.3" y="452.7">high</text>
</svg></body></html>
